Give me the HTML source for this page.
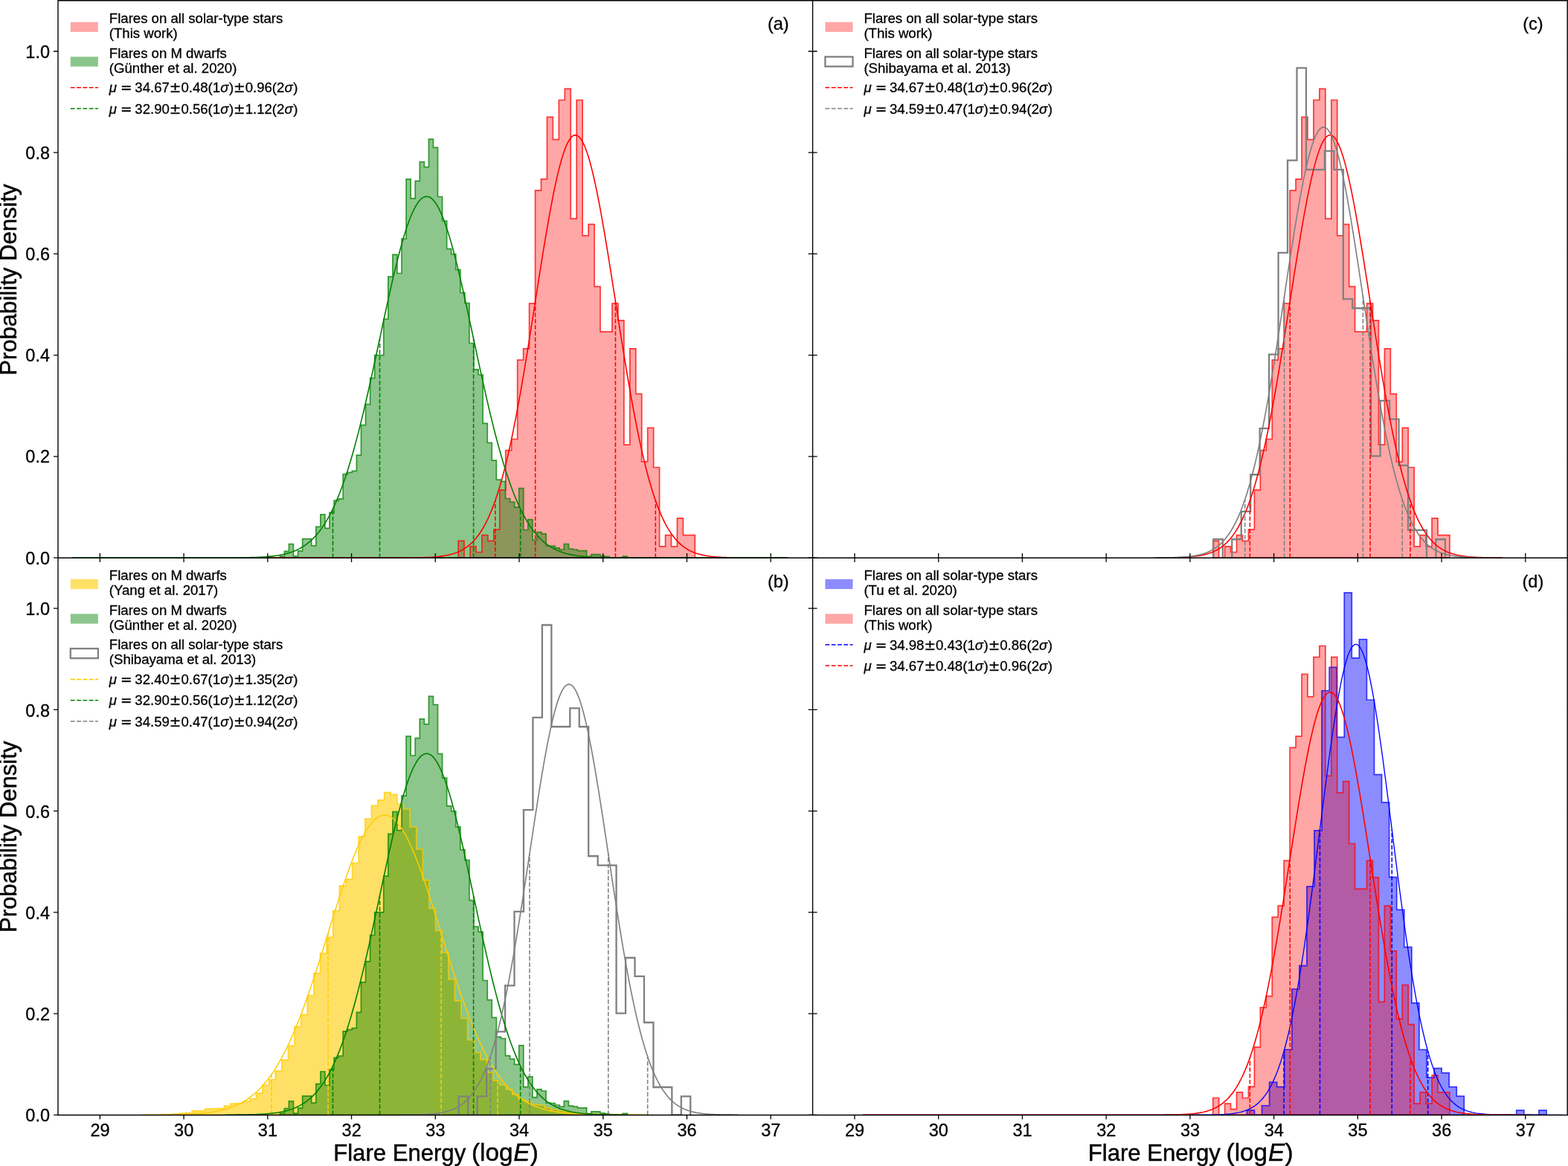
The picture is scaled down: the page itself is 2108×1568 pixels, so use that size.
<!DOCTYPE html>
<html lang="en">
<head>
<meta charset="utf-8">
<title>Flare energy distributions</title>
<style>
html,body{margin:0;padding:0;background:#fff;}
body{width:2108px;height:1568px;overflow:hidden;}
svg{display:block;}
</style>
</head>
<body>
<svg width="2108" height="1568" viewBox="0 0 2108 1568" font-family='"Liberation Sans", sans-serif' fill="#000">
<style>text{stroke:#000;stroke-width:0.3px;paint-order:stroke;}</style>
<rect width="2108" height="1568" fill="#fff"/>
<defs>
<clipPath id="c0"><rect x="78" y="0.9" width="1014.6" height="749.2"/></clipPath>
<clipPath id="c1"><rect x="1092.6" y="0.9" width="1014.6" height="749.2"/></clipPath>
<clipPath id="c2"><rect x="78" y="750.1" width="1014.6" height="749.2"/></clipPath>
<clipPath id="c3"><rect x="1092.6" y="750.1" width="1014.6" height="749.2"/></clipPath>
</defs>
<g clip-path="url(#c0)">
<path d="M616.1 750.1 L616.1 727.3 L624.06 727.3 L624.06 750.1 L632.01 750.1 L632.01 734.9 L639.97 734.9 L639.97 742.5 L647.92 742.5 L647.92 719.7 L655.88 719.7 L655.88 727.3 L663.83 727.3 L663.83 712.1 L671.79 712.1 L671.79 658.9 L679.74 658.9 L679.74 605.7 L687.7 605.7 L687.7 590.5 L695.65 590.5 L695.65 484.1 L703.61 484.1 L703.61 468.9 L711.56 468.9 L711.56 408.1 L719.52 408.1 L719.51 256.1 L727.47 256.1 L727.47 240.9 L735.43 240.9 L735.43 157.3 L743.38 157.3 L743.38 187.7 L751.34 187.7 L751.34 134.5 L759.29 134.5 L759.29 119.3 L767.25 119.3 L767.25 294.1 L775.2 294.1 L775.2 134.5 L783.16 134.5 L783.15 316.9 L791.11 316.9 L791.11 301.7 L799.07 301.7 L799.07 385.3 L807.02 385.3 L807.02 446.1 L814.98 446.1 L822.93 446.1 L822.93 408.1 L830.89 408.1 L830.88 430.9 L838.84 430.9 L838.84 598.1 L846.8 598.1 L846.8 468.9 L854.75 468.9 L854.75 529.7 L862.71 529.7 L862.71 620.9 L870.66 620.9 L870.66 575.3 L878.62 575.3 L878.62 628.5 L886.57 628.5 L886.57 734.9 L894.53 734.9 L894.53 719.7 L902.48 719.7 L902.48 734.9 L910.44 734.9 L910.43 696.9 L918.39 696.9 L918.39 719.7 L926.35 719.7 L934.3 719.7 L934.3 750.1Z" fill="#ff0000" fill-opacity="0.35"/>
<path d="M376.3 750.1 L376.3 747.9 L382.36 747.9 L382.36 741.3 L388.43 741.3 L388.43 731.7 L394.49 731.7 L394.49 747.9 L400.56 747.9 L400.56 740.9 L406.62 740.9 L406.62 724.7 L412.68 724.7 L418.75 724.7 L418.75 733.9 L424.81 733.9 L424.81 708.4 L430.88 708.4 L430.88 691.8 L436.94 691.8 L436.94 710.3 L443 710.3 L443 689.3 L449.07 689.3 L449.07 673.1 L455.13 673.1 L455.13 670.8 L461.2 670.8 L461.2 637.6 L467.26 637.6 L467.26 635.4 L473.32 635.4 L473.32 633.4 L479.39 633.4 L479.39 612.1 L485.45 612.1 L485.45 571.7 L491.52 571.7 L491.52 543.7 L497.58 543.7 L497.58 508.3 L503.64 508.3 L503.64 477.6 L509.71 477.6 L515.77 477.6 L515.77 429 L521.84 429 L521.84 372.2 L527.9 372.2 L527.9 342.3 L533.96 342.3 L533.96 367.5 L540.03 367.5 L540.03 321 L546.09 321 L546.09 240.9 L552.16 240.9 L552.16 266.8 L558.22 266.8 L558.22 243.4 L564.28 243.4 L564.28 217.7 L570.35 217.7 L570.35 224.7 L576.41 224.7 L576.41 187.1 L582.48 187.1 L582.48 198.4 L588.54 198.4 L588.54 264.5 L594.6 264.5 L594.6 297 L600.67 297 L600.67 334.6 L606.73 334.6 L606.73 341.7 L612.8 341.7 L612.8 362.7 L618.86 362.7 L618.86 393.5 L624.92 393.5 L624.92 407.5 L630.99 407.5 L630.99 461.5 L637.05 461.5 L637.05 496.8 L643.12 496.8 L643.12 504 L649.18 504 L649.18 569.3 L655.24 569.3 L655.24 595.4 L661.31 595.4 L661.31 619.1 L667.37 619.1 L667.37 645.1 L673.44 645.1 L673.44 647.3 L679.5 647.3 L679.5 670.5 L685.56 670.5 L685.56 675 L691.63 675 L691.63 682.1 L697.69 682.1 L697.69 656.7 L703.76 656.7 L703.76 712.5 L709.82 712.5 L709.82 698.7 L715.88 698.7 L715.88 726.4 L721.95 726.4 L721.95 715.6 L728.01 715.6 L728.01 717.8 L734.08 717.8 L734.08 734 L740.14 734 L740.14 734.3 L746.2 734.3 L746.2 736.8 L752.27 736.8 L752.27 739 L758.33 739 L758.33 731.5 L764.4 731.5 L764.4 738 L770.46 738 L770.46 739 L776.52 739 L776.52 740.6 L782.59 740.6 L788.65 740.6 L788.65 748.4 L794.72 748.4 L794.72 745.6 L800.78 745.6 L806.84 745.6 L806.84 747.6 L812.91 747.6 L812.91 748.4 L818.97 748.4 L818.97 750.1 L825.04 750.1 L831.1 750.1 L837.16 750.1 L837.16 748.1 L843.23 748.1 L843.23 750.1Z" fill="#008000" fill-opacity="0.45"/>
<path d="M616.1 750.1 L616.1 727.3 L624.06 727.3 L624.06 750.1 L632.01 750.1 L632.01 734.9 L639.97 734.9 L639.97 742.5 L647.92 742.5 L647.92 719.7 L655.88 719.7 L655.88 727.3 L663.83 727.3 L663.83 712.1 L671.79 712.1 L671.79 658.9 L679.74 658.9 L679.74 605.7 L687.7 605.7 L687.7 590.5 L695.65 590.5 L695.65 484.1 L703.61 484.1 L703.61 468.9 L711.56 468.9 L711.56 408.1 L719.52 408.1 L719.51 256.1 L727.47 256.1 L727.47 240.9 L735.43 240.9 L735.43 157.3 L743.38 157.3 L743.38 187.7 L751.34 187.7 L751.34 134.5 L759.29 134.5 L759.29 119.3 L767.25 119.3 L767.25 294.1 L775.2 294.1 L775.2 134.5 L783.16 134.5 L783.15 316.9 L791.11 316.9 L791.11 301.7 L799.07 301.7 L799.07 385.3 L807.02 385.3 L807.02 446.1 L814.98 446.1 L822.93 446.1 L822.93 408.1 L830.89 408.1 L830.88 430.9 L838.84 430.9 L838.84 598.1 L846.8 598.1 L846.8 468.9 L854.75 468.9 L854.75 529.7 L862.71 529.7 L862.71 620.9 L870.66 620.9 L870.66 575.3 L878.62 575.3 L878.62 628.5 L886.57 628.5 L886.57 734.9 L894.53 734.9 L894.53 719.7 L902.48 719.7 L902.48 734.9 L910.44 734.9 L910.43 696.9 L918.39 696.9 L918.39 719.7 L926.35 719.7 L934.3 719.7 L934.3 750.1Z" fill="none" stroke="#ff0000" stroke-opacity="0.75" stroke-width="1.7" stroke-linejoin="miter"/>
<path d="M376.3 750.1 L376.3 747.9 L382.36 747.9 L382.36 741.3 L388.43 741.3 L388.43 731.7 L394.49 731.7 L394.49 747.9 L400.56 747.9 L400.56 740.9 L406.62 740.9 L406.62 724.7 L412.68 724.7 L418.75 724.7 L418.75 733.9 L424.81 733.9 L424.81 708.4 L430.88 708.4 L430.88 691.8 L436.94 691.8 L436.94 710.3 L443 710.3 L443 689.3 L449.07 689.3 L449.07 673.1 L455.13 673.1 L455.13 670.8 L461.2 670.8 L461.2 637.6 L467.26 637.6 L467.26 635.4 L473.32 635.4 L473.32 633.4 L479.39 633.4 L479.39 612.1 L485.45 612.1 L485.45 571.7 L491.52 571.7 L491.52 543.7 L497.58 543.7 L497.58 508.3 L503.64 508.3 L503.64 477.6 L509.71 477.6 L515.77 477.6 L515.77 429 L521.84 429 L521.84 372.2 L527.9 372.2 L527.9 342.3 L533.96 342.3 L533.96 367.5 L540.03 367.5 L540.03 321 L546.09 321 L546.09 240.9 L552.16 240.9 L552.16 266.8 L558.22 266.8 L558.22 243.4 L564.28 243.4 L564.28 217.7 L570.35 217.7 L570.35 224.7 L576.41 224.7 L576.41 187.1 L582.48 187.1 L582.48 198.4 L588.54 198.4 L588.54 264.5 L594.6 264.5 L594.6 297 L600.67 297 L600.67 334.6 L606.73 334.6 L606.73 341.7 L612.8 341.7 L612.8 362.7 L618.86 362.7 L618.86 393.5 L624.92 393.5 L624.92 407.5 L630.99 407.5 L630.99 461.5 L637.05 461.5 L637.05 496.8 L643.12 496.8 L643.12 504 L649.18 504 L649.18 569.3 L655.24 569.3 L655.24 595.4 L661.31 595.4 L661.31 619.1 L667.37 619.1 L667.37 645.1 L673.44 645.1 L673.44 647.3 L679.5 647.3 L679.5 670.5 L685.56 670.5 L685.56 675 L691.63 675 L691.63 682.1 L697.69 682.1 L697.69 656.7 L703.76 656.7 L703.76 712.5 L709.82 712.5 L709.82 698.7 L715.88 698.7 L715.88 726.4 L721.95 726.4 L721.95 715.6 L728.01 715.6 L728.01 717.8 L734.08 717.8 L734.08 734 L740.14 734 L740.14 734.3 L746.2 734.3 L746.2 736.8 L752.27 736.8 L752.27 739 L758.33 739 L758.33 731.5 L764.4 731.5 L764.4 738 L770.46 738 L770.46 739 L776.52 739 L776.52 740.6 L782.59 740.6 L788.65 740.6 L788.65 748.4 L794.72 748.4 L794.72 745.6 L800.78 745.6 L806.84 745.6 L806.84 747.6 L812.91 747.6 L812.91 748.4 L818.97 748.4 L818.97 750.1 L825.04 750.1 L831.1 750.1 L837.16 750.1 L837.16 748.1 L843.23 748.1 L843.23 750.1Z" fill="none" stroke="#008000" stroke-opacity="0.75" stroke-width="1.7" stroke-linejoin="miter"/>
</g>
<g clip-path="url(#c1)">
<path d="M1630.7 750.1 L1630.7 727.3 L1638.65 727.3 L1638.65 750.1 L1646.61 750.1 L1646.61 734.9 L1654.56 734.9 L1654.56 742.5 L1662.52 742.5 L1662.52 719.7 L1670.47 719.7 L1670.47 727.3 L1678.43 727.3 L1678.43 712.1 L1686.38 712.1 L1686.38 658.9 L1694.34 658.9 L1694.34 605.7 L1702.29 605.7 L1702.29 590.5 L1710.25 590.5 L1710.25 484.1 L1718.2 484.1 L1718.2 468.9 L1726.16 468.9 L1726.16 408.1 L1734.11 408.1 L1734.11 256.1 L1742.07 256.1 L1742.07 240.9 L1750.02 240.9 L1750.02 157.3 L1757.98 157.3 L1757.98 187.7 L1765.93 187.7 L1765.93 134.5 L1773.89 134.5 L1773.89 119.3 L1781.84 119.3 L1781.84 294.1 L1789.8 294.1 L1789.8 134.5 L1797.75 134.5 L1797.75 316.9 L1805.71 316.9 L1805.71 301.7 L1813.66 301.7 L1813.66 385.3 L1821.62 385.3 L1821.62 446.1 L1829.57 446.1 L1837.53 446.1 L1837.53 408.1 L1845.48 408.1 L1845.48 430.9 L1853.44 430.9 L1853.44 598.1 L1861.39 598.1 L1861.39 468.9 L1869.35 468.9 L1869.35 529.7 L1877.3 529.7 L1877.3 620.9 L1885.26 620.9 L1885.26 575.3 L1893.21 575.3 L1893.21 628.5 L1901.17 628.5 L1901.17 734.9 L1909.12 734.9 L1909.12 719.7 L1917.08 719.7 L1917.08 734.9 L1925.03 734.9 L1925.03 696.9 L1932.99 696.9 L1932.99 719.7 L1940.94 719.7 L1948.9 719.7 L1948.9 750.1Z" fill="#ff0000" fill-opacity="0.35"/>

<path d="M1630.7 750.1 L1630.7 727.3 L1638.65 727.3 L1638.65 750.1 L1646.61 750.1 L1646.61 734.9 L1654.56 734.9 L1654.56 742.5 L1662.52 742.5 L1662.52 719.7 L1670.47 719.7 L1670.47 727.3 L1678.43 727.3 L1678.43 712.1 L1686.38 712.1 L1686.38 658.9 L1694.34 658.9 L1694.34 605.7 L1702.29 605.7 L1702.29 590.5 L1710.25 590.5 L1710.25 484.1 L1718.2 484.1 L1718.2 468.9 L1726.16 468.9 L1726.16 408.1 L1734.11 408.1 L1734.11 256.1 L1742.07 256.1 L1742.07 240.9 L1750.02 240.9 L1750.02 157.3 L1757.98 157.3 L1757.98 187.7 L1765.93 187.7 L1765.93 134.5 L1773.89 134.5 L1773.89 119.3 L1781.84 119.3 L1781.84 294.1 L1789.8 294.1 L1789.8 134.5 L1797.75 134.5 L1797.75 316.9 L1805.71 316.9 L1805.71 301.7 L1813.66 301.7 L1813.66 385.3 L1821.62 385.3 L1821.62 446.1 L1829.57 446.1 L1837.53 446.1 L1837.53 408.1 L1845.48 408.1 L1845.48 430.9 L1853.44 430.9 L1853.44 598.1 L1861.39 598.1 L1861.39 468.9 L1869.35 468.9 L1869.35 529.7 L1877.3 529.7 L1877.3 620.9 L1885.26 620.9 L1885.26 575.3 L1893.21 575.3 L1893.21 628.5 L1901.17 628.5 L1901.17 734.9 L1909.12 734.9 L1909.12 719.7 L1917.08 719.7 L1917.08 734.9 L1925.03 734.9 L1925.03 696.9 L1932.99 696.9 L1932.99 719.7 L1940.94 719.7 L1948.9 719.7 L1948.9 750.1Z" fill="none" stroke="#ff0000" stroke-opacity="0.75" stroke-width="1.7" stroke-linejoin="miter"/>
<path d="M1631.35 750.1 L1631.35 725.24 L1643.81 725.24 L1643.81 750.1 L1656.27 750.1 L1656.27 725.24 L1668.73 725.24 L1668.73 687.95 L1681.19 687.95 L1681.19 638.23 L1693.65 638.23 L1693.65 576.08 L1706.11 576.08 L1706.11 476.64 L1718.57 476.64 L1718.57 339.91 L1731.03 339.91 L1731.03 215.61 L1743.49 215.61 L1743.49 91.31 L1755.95 91.31 L1755.95 228.04 L1768.41 228.04 L1780.87 228.04 L1780.87 203.18 L1793.33 203.18 L1793.33 228.04 L1805.79 228.04 L1805.79 402.06 L1818.25 402.06 L1818.25 414.49 L1830.71 414.49 L1843.17 414.49 L1843.17 613.37 L1855.63 613.37 L1855.63 538.79 L1868.09 538.79 L1868.09 563.65 L1880.55 563.65 L1880.55 625.8 L1893.01 625.8 L1893.01 712.81 L1905.47 712.81 L1917.93 712.81 L1917.93 750.1 L1930.39 750.1 L1930.39 725.24 L1942.85 725.24 L1942.85 750.1" fill="none" stroke="#808080" stroke-width="2.3" stroke-linejoin="miter"/>
</g>
<g clip-path="url(#c2)">
<path d="M215.18 1499.3 L215.18 1498.8 L223.79 1498.8 L223.79 1498.5 L232.41 1498.5 L232.41 1497.9 L241.02 1497.9 L241.02 1497.1 L249.64 1497.1 L249.64 1496.5 L258.25 1496.5 L258.25 1493.9 L266.86 1493.9 L275.48 1493.9 L275.48 1491.2 L284.09 1491.2 L284.09 1490.9 L292.71 1490.9 L292.71 1490.6 L301.32 1490.6 L301.32 1487 L309.93 1487 L309.93 1484.1 L318.55 1484.1 L318.55 1483.9 L327.16 1483.9 L327.16 1481.1 L335.78 1481.1 L335.78 1477.5 L344.39 1477.5 L344.39 1470.2 L353 1470.2 L353 1459 L361.62 1459 L361.62 1451.9 L370.23 1451.9 L370.23 1440.2 L378.85 1440.2 L378.85 1425.3 L387.46 1425.3 L387.46 1406.3 L396.07 1406.3 L396.07 1380.7 L404.69 1380.7 L404.69 1364.3 L413.3 1364.3 L413.3 1338.5 L421.92 1338.5 L421.92 1308.8 L430.53 1308.8 L430.53 1282 L439.14 1282 L439.14 1260.3 L447.76 1260.3 L447.76 1224.5 L456.37 1224.5 L456.37 1191.1 L464.99 1191.1 L464.99 1182.3 L473.6 1182.3 L473.6 1160.5 L482.21 1160.5 L482.21 1124.8 L490.83 1124.8 L490.83 1101.2 L499.44 1101.2 L499.44 1083.3 L508.06 1083.3 L508.06 1075.9 L516.67 1075.9 L516.67 1065.5 L525.28 1065.5 L525.28 1068.4 L533.9 1068.4 L533.9 1081.4 L542.51 1081.4 L542.51 1088 L551.13 1088 L551.13 1112 L559.74 1112 L559.74 1142 L568.35 1142 L568.35 1183.7 L576.97 1183.7 L576.97 1221.4 L585.58 1221.4 L585.58 1251.4 L594.2 1251.4 L594.2 1281 L602.81 1281 L602.81 1316.9 L611.42 1316.9 L611.42 1345.9 L620.04 1345.9 L620.04 1369.3 L628.65 1369.3 L628.65 1398.5 L637.27 1398.5 L637.27 1415.5 L645.88 1415.5 L645.88 1424.8 L654.49 1424.8 L654.49 1441.9 L663.11 1441.9 L663.11 1452.8 L671.72 1452.8 L671.72 1459.2 L680.34 1459.2 L680.34 1465 L688.95 1465 L688.95 1471.8 L697.56 1471.8 L697.56 1478.6 L706.18 1478.6 L706.18 1481.2 L714.79 1481.2 L714.79 1485.4 L723.41 1485.4 L723.41 1486.1 L732.02 1486.1 L732.02 1489.6 L740.63 1489.6 L740.63 1492.2 L749.25 1492.2 L749.25 1493.6 L757.86 1493.6 L757.86 1494.8 L766.48 1494.8 L766.48 1495.9 L775.09 1495.9 L775.09 1496.9 L783.7 1496.9 L783.7 1497.5 L792.32 1497.5 L792.32 1497.9 L800.93 1497.9 L800.93 1498.2 L809.55 1498.2 L809.55 1498.4 L818.16 1498.4 L818.16 1498.6 L826.77 1498.6 L826.77 1498.7 L835.39 1498.7 L835.39 1498.8 L844 1498.8 L844 1498.9 L852.62 1498.9 L861.23 1498.9 L861.23 1499 L869.84 1499 L869.84 1499.3Z" fill="#ffcc00" fill-opacity="0.6"/>
<path d="M376.3 1499.3 L376.3 1497.1 L382.36 1497.1 L382.36 1490.5 L388.43 1490.5 L388.43 1480.9 L394.49 1480.9 L394.49 1497.1 L400.56 1497.1 L400.56 1490.1 L406.62 1490.1 L406.62 1473.9 L412.68 1473.9 L418.75 1473.9 L418.75 1483.1 L424.81 1483.1 L424.81 1457.6 L430.88 1457.6 L430.88 1441 L436.94 1441 L436.94 1459.5 L443 1459.5 L443 1438.5 L449.07 1438.5 L449.07 1422.3 L455.13 1422.3 L455.13 1420 L461.2 1420 L461.2 1386.8 L467.26 1386.8 L467.26 1384.6 L473.32 1384.6 L473.32 1382.6 L479.39 1382.6 L479.39 1361.3 L485.45 1361.3 L485.45 1320.9 L491.52 1320.9 L491.52 1292.9 L497.58 1292.9 L497.58 1257.5 L503.64 1257.5 L503.64 1226.8 L509.71 1226.8 L515.77 1226.8 L515.77 1178.2 L521.84 1178.2 L521.84 1121.4 L527.9 1121.4 L527.9 1091.5 L533.96 1091.5 L533.96 1116.7 L540.03 1116.7 L540.03 1070.2 L546.09 1070.2 L546.09 990.1 L552.16 990.1 L552.16 1016 L558.22 1016 L558.22 992.6 L564.28 992.6 L564.28 966.9 L570.35 966.9 L570.35 973.9 L576.41 973.9 L576.41 936.3 L582.48 936.3 L582.48 947.6 L588.54 947.6 L588.54 1013.7 L594.6 1013.7 L594.6 1046.2 L600.67 1046.2 L600.67 1083.8 L606.73 1083.8 L606.73 1090.9 L612.8 1090.9 L612.8 1111.9 L618.86 1111.9 L618.86 1142.7 L624.92 1142.7 L624.92 1156.7 L630.99 1156.7 L630.99 1210.7 L637.05 1210.7 L637.05 1246 L643.12 1246 L643.12 1253.2 L649.18 1253.2 L649.18 1318.5 L655.24 1318.5 L655.24 1344.6 L661.31 1344.6 L661.31 1368.3 L667.37 1368.3 L667.37 1394.3 L673.44 1394.3 L673.44 1396.5 L679.5 1396.5 L679.5 1419.7 L685.56 1419.7 L685.56 1424.2 L691.63 1424.2 L691.63 1431.3 L697.69 1431.3 L697.69 1405.9 L703.76 1405.9 L703.76 1461.7 L709.82 1461.7 L709.82 1447.9 L715.88 1447.9 L715.88 1475.6 L721.95 1475.6 L721.95 1464.8 L728.01 1464.8 L728.01 1467 L734.08 1467 L734.08 1483.2 L740.14 1483.2 L740.14 1483.5 L746.2 1483.5 L746.2 1486 L752.27 1486 L752.27 1488.2 L758.33 1488.2 L758.33 1480.7 L764.4 1480.7 L764.4 1487.2 L770.46 1487.2 L770.46 1488.2 L776.52 1488.2 L776.52 1489.8 L782.59 1489.8 L788.65 1489.8 L788.65 1497.6 L794.72 1497.6 L794.72 1494.8 L800.78 1494.8 L806.84 1494.8 L806.84 1496.8 L812.91 1496.8 L812.91 1497.6 L818.97 1497.6 L818.97 1499.3 L825.04 1499.3 L831.1 1499.3 L837.16 1499.3 L837.16 1497.3 L843.23 1497.3 L843.23 1499.3Z" fill="#008000" fill-opacity="0.45"/>

<path d="M215.18 1499.3 L215.18 1498.8 L223.79 1498.8 L223.79 1498.5 L232.41 1498.5 L232.41 1497.9 L241.02 1497.9 L241.02 1497.1 L249.64 1497.1 L249.64 1496.5 L258.25 1496.5 L258.25 1493.9 L266.86 1493.9 L275.48 1493.9 L275.48 1491.2 L284.09 1491.2 L284.09 1490.9 L292.71 1490.9 L292.71 1490.6 L301.32 1490.6 L301.32 1487 L309.93 1487 L309.93 1484.1 L318.55 1484.1 L318.55 1483.9 L327.16 1483.9 L327.16 1481.1 L335.78 1481.1 L335.78 1477.5 L344.39 1477.5 L344.39 1470.2 L353 1470.2 L353 1459 L361.62 1459 L361.62 1451.9 L370.23 1451.9 L370.23 1440.2 L378.85 1440.2 L378.85 1425.3 L387.46 1425.3 L387.46 1406.3 L396.07 1406.3 L396.07 1380.7 L404.69 1380.7 L404.69 1364.3 L413.3 1364.3 L413.3 1338.5 L421.92 1338.5 L421.92 1308.8 L430.53 1308.8 L430.53 1282 L439.14 1282 L439.14 1260.3 L447.76 1260.3 L447.76 1224.5 L456.37 1224.5 L456.37 1191.1 L464.99 1191.1 L464.99 1182.3 L473.6 1182.3 L473.6 1160.5 L482.21 1160.5 L482.21 1124.8 L490.83 1124.8 L490.83 1101.2 L499.44 1101.2 L499.44 1083.3 L508.06 1083.3 L508.06 1075.9 L516.67 1075.9 L516.67 1065.5 L525.28 1065.5 L525.28 1068.4 L533.9 1068.4 L533.9 1081.4 L542.51 1081.4 L542.51 1088 L551.13 1088 L551.13 1112 L559.74 1112 L559.74 1142 L568.35 1142 L568.35 1183.7 L576.97 1183.7 L576.97 1221.4 L585.58 1221.4 L585.58 1251.4 L594.2 1251.4 L594.2 1281 L602.81 1281 L602.81 1316.9 L611.42 1316.9 L611.42 1345.9 L620.04 1345.9 L620.04 1369.3 L628.65 1369.3 L628.65 1398.5 L637.27 1398.5 L637.27 1415.5 L645.88 1415.5 L645.88 1424.8 L654.49 1424.8 L654.49 1441.9 L663.11 1441.9 L663.11 1452.8 L671.72 1452.8 L671.72 1459.2 L680.34 1459.2 L680.34 1465 L688.95 1465 L688.95 1471.8 L697.56 1471.8 L697.56 1478.6 L706.18 1478.6 L706.18 1481.2 L714.79 1481.2 L714.79 1485.4 L723.41 1485.4 L723.41 1486.1 L732.02 1486.1 L732.02 1489.6 L740.63 1489.6 L740.63 1492.2 L749.25 1492.2 L749.25 1493.6 L757.86 1493.6 L757.86 1494.8 L766.48 1494.8 L766.48 1495.9 L775.09 1495.9 L775.09 1496.9 L783.7 1496.9 L783.7 1497.5 L792.32 1497.5 L792.32 1497.9 L800.93 1497.9 L800.93 1498.2 L809.55 1498.2 L809.55 1498.4 L818.16 1498.4 L818.16 1498.6 L826.77 1498.6 L826.77 1498.7 L835.39 1498.7 L835.39 1498.8 L844 1498.8 L844 1498.9 L852.62 1498.9 L861.23 1498.9 L861.23 1499 L869.84 1499 L869.84 1499.3Z" fill="none" stroke="#ffcc00" stroke-opacity="0.75" stroke-width="1.7" stroke-linejoin="miter"/>
<path d="M376.3 1499.3 L376.3 1497.1 L382.36 1497.1 L382.36 1490.5 L388.43 1490.5 L388.43 1480.9 L394.49 1480.9 L394.49 1497.1 L400.56 1497.1 L400.56 1490.1 L406.62 1490.1 L406.62 1473.9 L412.68 1473.9 L418.75 1473.9 L418.75 1483.1 L424.81 1483.1 L424.81 1457.6 L430.88 1457.6 L430.88 1441 L436.94 1441 L436.94 1459.5 L443 1459.5 L443 1438.5 L449.07 1438.5 L449.07 1422.3 L455.13 1422.3 L455.13 1420 L461.2 1420 L461.2 1386.8 L467.26 1386.8 L467.26 1384.6 L473.32 1384.6 L473.32 1382.6 L479.39 1382.6 L479.39 1361.3 L485.45 1361.3 L485.45 1320.9 L491.52 1320.9 L491.52 1292.9 L497.58 1292.9 L497.58 1257.5 L503.64 1257.5 L503.64 1226.8 L509.71 1226.8 L515.77 1226.8 L515.77 1178.2 L521.84 1178.2 L521.84 1121.4 L527.9 1121.4 L527.9 1091.5 L533.96 1091.5 L533.96 1116.7 L540.03 1116.7 L540.03 1070.2 L546.09 1070.2 L546.09 990.1 L552.16 990.1 L552.16 1016 L558.22 1016 L558.22 992.6 L564.28 992.6 L564.28 966.9 L570.35 966.9 L570.35 973.9 L576.41 973.9 L576.41 936.3 L582.48 936.3 L582.48 947.6 L588.54 947.6 L588.54 1013.7 L594.6 1013.7 L594.6 1046.2 L600.67 1046.2 L600.67 1083.8 L606.73 1083.8 L606.73 1090.9 L612.8 1090.9 L612.8 1111.9 L618.86 1111.9 L618.86 1142.7 L624.92 1142.7 L624.92 1156.7 L630.99 1156.7 L630.99 1210.7 L637.05 1210.7 L637.05 1246 L643.12 1246 L643.12 1253.2 L649.18 1253.2 L649.18 1318.5 L655.24 1318.5 L655.24 1344.6 L661.31 1344.6 L661.31 1368.3 L667.37 1368.3 L667.37 1394.3 L673.44 1394.3 L673.44 1396.5 L679.5 1396.5 L679.5 1419.7 L685.56 1419.7 L685.56 1424.2 L691.63 1424.2 L691.63 1431.3 L697.69 1431.3 L697.69 1405.9 L703.76 1405.9 L703.76 1461.7 L709.82 1461.7 L709.82 1447.9 L715.88 1447.9 L715.88 1475.6 L721.95 1475.6 L721.95 1464.8 L728.01 1464.8 L728.01 1467 L734.08 1467 L734.08 1483.2 L740.14 1483.2 L740.14 1483.5 L746.2 1483.5 L746.2 1486 L752.27 1486 L752.27 1488.2 L758.33 1488.2 L758.33 1480.7 L764.4 1480.7 L764.4 1487.2 L770.46 1487.2 L770.46 1488.2 L776.52 1488.2 L776.52 1489.8 L782.59 1489.8 L788.65 1489.8 L788.65 1497.6 L794.72 1497.6 L794.72 1494.8 L800.78 1494.8 L806.84 1494.8 L806.84 1496.8 L812.91 1496.8 L812.91 1497.6 L818.97 1497.6 L818.97 1499.3 L825.04 1499.3 L831.1 1499.3 L837.16 1499.3 L837.16 1497.3 L843.23 1497.3 L843.23 1499.3Z" fill="none" stroke="#008000" stroke-opacity="0.75" stroke-width="1.7" stroke-linejoin="miter"/>
<path d="M616.75 1499.3 L616.75 1474.44 L629.21 1474.44 L629.21 1499.3 L641.67 1499.3 L641.67 1474.44 L654.13 1474.44 L654.13 1437.15 L666.59 1437.15 L666.59 1387.43 L679.05 1387.43 L679.05 1325.28 L691.51 1325.28 L691.51 1225.84 L703.97 1225.84 L703.97 1089.11 L716.43 1089.11 L716.43 964.81 L728.89 964.81 L728.89 840.51 L741.35 840.51 L741.35 977.24 L753.81 977.24 L766.27 977.24 L766.27 952.38 L778.73 952.38 L778.73 977.24 L791.19 977.24 L791.19 1151.26 L803.65 1151.26 L803.65 1163.69 L816.11 1163.69 L828.57 1163.69 L828.57 1362.57 L841.03 1362.57 L841.03 1287.99 L853.49 1287.99 L853.49 1312.85 L865.95 1312.85 L865.95 1375 L878.41 1375 L878.41 1462.01 L890.87 1462.01 L903.33 1462.01 L903.33 1499.3 L915.79 1499.3 L915.79 1474.44 L928.25 1474.44 L928.25 1499.3" fill="none" stroke="#808080" stroke-width="2.3" stroke-linejoin="miter"/>
</g>
<g clip-path="url(#c3)">
<path d="M1676.4 1499.3 L1676.4 1493.03 L1686.47 1493.03 L1686.47 1499.3 L1696.53 1499.3 L1696.53 1486.76 L1706.6 1486.76 L1706.6 1455.41 L1716.66 1455.41 L1716.66 1461.68 L1726.73 1461.68 L1726.73 1411.52 L1736.79 1411.52 L1736.79 1330.01 L1746.86 1330.01 L1746.86 1298.66 L1756.92 1298.66 L1756.92 1192.07 L1766.99 1192.07 L1766.99 1116.83 L1777.05 1116.83 L1777.05 928.73 L1787.12 928.73 L1787.12 897.38 L1797.18 897.38 L1797.18 991.43 L1807.25 991.43 L1807.25 797.06 L1817.31 797.06 L1817.31 884.84 L1827.38 884.84 L1827.38 859.76 L1837.44 859.76 L1837.44 941.27 L1847.51 941.27 L1847.51 1041.59 L1857.57 1041.59 L1857.57 1079.21 L1867.64 1079.21 L1867.63 1179.53 L1877.7 1179.53 L1877.7 1223.42 L1887.77 1223.42 L1887.77 1273.58 L1897.83 1273.58 L1897.83 1348.82 L1907.9 1348.82 L1907.89 1411.52 L1917.96 1411.52 L1917.96 1449.14 L1928.03 1449.14 L1928.03 1436.6 L1938.09 1436.6 L1938.09 1442.87 L1948.16 1442.87 L1948.16 1461.68 L1958.22 1461.68 L1958.22 1474.22 L1968.29 1474.22 L1968.29 1499.3 L1978.35 1499.3 L1988.42 1499.3 L1988.41 1499.3 L1998.48 1499.3 L2008.55 1499.3 L2018.61 1499.3 L2028.68 1499.3 L2038.74 1499.3 L2038.74 1493.03 L2048.8 1493.03 L2048.81 1499.3 L2058.87 1499.3 L2068.93 1499.3 L2068.93 1493.03 L2079 1493.03 L2079 1499.3Z" fill="#0000ff" fill-opacity="0.45"/>
<path d="M1630.7 1499.3 L1630.7 1476.5 L1638.65 1476.5 L1638.65 1499.3 L1646.61 1499.3 L1646.61 1484.1 L1654.56 1484.1 L1654.56 1491.7 L1662.52 1491.7 L1662.52 1468.9 L1670.47 1468.9 L1670.47 1476.5 L1678.43 1476.5 L1678.43 1461.3 L1686.38 1461.3 L1686.38 1408.1 L1694.34 1408.1 L1694.34 1354.9 L1702.29 1354.9 L1702.29 1339.7 L1710.25 1339.7 L1710.25 1233.3 L1718.2 1233.3 L1718.2 1218.1 L1726.16 1218.1 L1726.16 1157.3 L1734.11 1157.3 L1734.11 1005.3 L1742.07 1005.3 L1742.07 990.1 L1750.02 990.1 L1750.02 906.5 L1757.98 906.5 L1757.98 936.9 L1765.93 936.9 L1765.93 883.7 L1773.89 883.7 L1773.89 868.5 L1781.84 868.5 L1781.84 1043.3 L1789.8 1043.3 L1789.8 883.7 L1797.75 883.7 L1797.75 1066.1 L1805.71 1066.1 L1805.71 1050.9 L1813.66 1050.9 L1813.66 1134.5 L1821.62 1134.5 L1821.62 1195.3 L1829.57 1195.3 L1837.53 1195.3 L1837.53 1157.3 L1845.48 1157.3 L1845.48 1180.1 L1853.44 1180.1 L1853.44 1347.3 L1861.39 1347.3 L1861.39 1218.1 L1869.35 1218.1 L1869.35 1278.9 L1877.3 1278.9 L1877.3 1370.1 L1885.26 1370.1 L1885.26 1324.5 L1893.21 1324.5 L1893.21 1377.7 L1901.17 1377.7 L1901.17 1484.1 L1909.12 1484.1 L1909.12 1468.9 L1917.08 1468.9 L1917.08 1484.1 L1925.03 1484.1 L1925.03 1446.1 L1932.99 1446.1 L1932.99 1468.9 L1940.94 1468.9 L1948.9 1468.9 L1948.9 1499.3Z" fill="#ff0000" fill-opacity="0.35"/>
<path d="M1676.4 1499.3 L1676.4 1493.03 L1686.47 1493.03 L1686.47 1499.3 L1696.53 1499.3 L1696.53 1486.76 L1706.6 1486.76 L1706.6 1455.41 L1716.66 1455.41 L1716.66 1461.68 L1726.73 1461.68 L1726.73 1411.52 L1736.79 1411.52 L1736.79 1330.01 L1746.86 1330.01 L1746.86 1298.66 L1756.92 1298.66 L1756.92 1192.07 L1766.99 1192.07 L1766.99 1116.83 L1777.05 1116.83 L1777.05 928.73 L1787.12 928.73 L1787.12 897.38 L1797.18 897.38 L1797.18 991.43 L1807.25 991.43 L1807.25 797.06 L1817.31 797.06 L1817.31 884.84 L1827.38 884.84 L1827.38 859.76 L1837.44 859.76 L1837.44 941.27 L1847.51 941.27 L1847.51 1041.59 L1857.57 1041.59 L1857.57 1079.21 L1867.64 1079.21 L1867.63 1179.53 L1877.7 1179.53 L1877.7 1223.42 L1887.77 1223.42 L1887.77 1273.58 L1897.83 1273.58 L1897.83 1348.82 L1907.9 1348.82 L1907.89 1411.52 L1917.96 1411.52 L1917.96 1449.14 L1928.03 1449.14 L1928.03 1436.6 L1938.09 1436.6 L1938.09 1442.87 L1948.16 1442.87 L1948.16 1461.68 L1958.22 1461.68 L1958.22 1474.22 L1968.29 1474.22 L1968.29 1499.3 L1978.35 1499.3 L1988.42 1499.3 L1988.41 1499.3 L1998.48 1499.3 L2008.55 1499.3 L2018.61 1499.3 L2028.68 1499.3 L2038.74 1499.3 L2038.74 1493.03 L2048.8 1493.03 L2048.81 1499.3 L2058.87 1499.3 L2068.93 1499.3 L2068.93 1493.03 L2079 1493.03 L2079 1499.3Z" fill="none" stroke="#0000ff" stroke-opacity="0.75" stroke-width="1.7" stroke-linejoin="miter"/>
<path d="M1630.7 1499.3 L1630.7 1476.5 L1638.65 1476.5 L1638.65 1499.3 L1646.61 1499.3 L1646.61 1484.1 L1654.56 1484.1 L1654.56 1491.7 L1662.52 1491.7 L1662.52 1468.9 L1670.47 1468.9 L1670.47 1476.5 L1678.43 1476.5 L1678.43 1461.3 L1686.38 1461.3 L1686.38 1408.1 L1694.34 1408.1 L1694.34 1354.9 L1702.29 1354.9 L1702.29 1339.7 L1710.25 1339.7 L1710.25 1233.3 L1718.2 1233.3 L1718.2 1218.1 L1726.16 1218.1 L1726.16 1157.3 L1734.11 1157.3 L1734.11 1005.3 L1742.07 1005.3 L1742.07 990.1 L1750.02 990.1 L1750.02 906.5 L1757.98 906.5 L1757.98 936.9 L1765.93 936.9 L1765.93 883.7 L1773.89 883.7 L1773.89 868.5 L1781.84 868.5 L1781.84 1043.3 L1789.8 1043.3 L1789.8 883.7 L1797.75 883.7 L1797.75 1066.1 L1805.71 1066.1 L1805.71 1050.9 L1813.66 1050.9 L1813.66 1134.5 L1821.62 1134.5 L1821.62 1195.3 L1829.57 1195.3 L1837.53 1195.3 L1837.53 1157.3 L1845.48 1157.3 L1845.48 1180.1 L1853.44 1180.1 L1853.44 1347.3 L1861.39 1347.3 L1861.39 1218.1 L1869.35 1218.1 L1869.35 1278.9 L1877.3 1278.9 L1877.3 1370.1 L1885.26 1370.1 L1885.26 1324.5 L1893.21 1324.5 L1893.21 1377.7 L1901.17 1377.7 L1901.17 1484.1 L1909.12 1484.1 L1909.12 1468.9 L1917.08 1468.9 L1917.08 1484.1 L1925.03 1484.1 L1925.03 1446.1 L1932.99 1446.1 L1932.99 1468.9 L1940.94 1468.9 L1948.9 1468.9 L1948.9 1499.3Z" fill="none" stroke="#ff0000" stroke-opacity="0.75" stroke-width="1.7" stroke-linejoin="miter"/>
</g>
<g clip-path="url(#c0)">
<path d="M359.82 750.1 L511.84 750.1 L513.59 750.09 L525.82 750.09 L527.57 750.08 L531.06 750.08 L532.81 750.07 L534.56 750.07 L536.3 750.06 L538.05 750.06 L539.8 750.05 L541.55 750.05 L543.29 750.04 L545.04 750.03 L546.79 750.02 L548.54 750.01 L550.28 749.99 L552.03 749.98 L553.78 749.96 L555.52 749.94 L557.27 749.92 L559.02 749.89 L560.77 749.87 L562.51 749.83 L564.26 749.8 L566.01 749.76 L567.76 749.71 L569.5 749.66 L571.25 749.61 L573 749.54 L574.74 749.47 L576.49 749.39 L578.24 749.3 L579.99 749.2 L581.73 749.09 L583.48 748.97 L585.23 748.83 L586.98 748.68 L588.72 748.51 L590.47 748.33 L592.22 748.12 L593.97 747.9 L595.71 747.65 L597.46 747.37 L599.21 747.07 L600.95 746.73 L602.7 746.37 L604.45 745.97 L606.2 745.53 L607.94 745.04 L609.69 744.52 L611.44 743.94 L613.19 743.31 L614.93 742.63 L616.68 741.89 L618.43 741.08 L620.17 740.2 L621.92 739.25 L623.67 738.22 L625.42 737.11 L627.16 735.9 L628.91 734.6 L630.66 733.2 L632.41 731.69 L634.15 730.07 L635.9 728.33 L637.65 726.46 L639.4 724.46 L641.14 722.32 L642.89 720.03 L644.64 717.59 L646.38 714.99 L648.13 712.22 L649.88 709.27 L651.63 706.14 L653.37 702.82 L655.12 699.3 L656.87 695.57 L658.62 691.64 L660.36 687.48 L662.11 683.1 L663.86 678.5 L665.61 673.65 L667.35 668.56 L669.1 663.23 L670.85 657.64 L672.59 651.8 L674.34 645.7 L676.09 639.33 L677.84 632.7 L679.58 625.81 L681.33 618.65 L683.08 611.22 L684.83 603.53 L686.57 595.57 L688.32 587.35 L690.07 578.88 L691.81 570.15 L693.56 561.18 L695.31 551.97 L697.06 542.53 L698.8 532.86 L700.55 522.99 L702.3 512.91 L704.05 502.65 L705.79 492.22 L707.54 481.63 L709.29 470.9 L711.04 460.05 L712.78 449.09 L714.53 438.04 L716.28 426.93 L718.02 415.77 L719.77 404.6 L721.52 393.42 L723.27 382.27 L725.01 371.17 L726.76 360.15 L728.51 349.22 L730.26 338.43 L732 327.78 L733.75 317.32 L735.5 307.06 L737.25 297.04 L738.99 287.28 L740.74 277.8 L742.49 268.64 L744.23 259.82 L745.98 251.35 L747.73 243.28 L749.48 235.62 L751.22 228.38 L752.97 221.61 L754.72 215.3 L756.47 209.5 L758.21 204.2 L759.96 199.43 L761.71 195.2 L763.45 191.53 L765.2 188.42 L766.95 185.89 L768.7 183.94 L770.44 182.59 L772.19 181.83 L773.94 181.66 L775.69 182.1 L777.43 183.13 L779.18 184.75 L780.93 186.96 L782.68 189.75 L784.42 193.12 L786.17 197.04 L787.92 201.52 L789.66 206.53 L791.41 212.06 L793.16 218.09 L794.91 224.61 L796.65 231.59 L798.4 239.02 L800.15 246.88 L801.9 255.13 L803.64 263.76 L805.39 272.74 L807.14 282.05 L808.88 291.65 L810.63 301.54 L812.38 311.67 L814.13 322.02 L815.87 332.57 L817.62 343.28 L819.37 354.14 L821.12 365.11 L822.86 376.18 L824.61 387.3 L826.36 398.47 L828.11 409.64 L829.85 420.81 L831.6 431.95 L833.35 443.04 L835.09 454.05 L836.84 464.96 L838.59 475.76 L840.34 486.43 L842.08 496.95 L843.83 507.31 L845.58 517.49 L847.33 527.47 L849.07 537.25 L850.82 546.82 L852.57 556.16 L854.32 565.26 L856.06 574.12 L857.81 582.74 L859.56 591.1 L861.3 599.2 L863.05 607.03 L864.8 614.61 L866.55 621.91 L868.29 628.96 L870.04 635.73 L871.79 642.24 L873.54 648.48 L875.28 654.47 L877.03 660.2 L878.78 665.67 L880.52 670.89 L882.27 675.87 L884.02 680.61 L885.77 685.11 L887.51 689.39 L889.26 693.44 L891.01 697.28 L892.76 700.91 L894.5 704.34 L896.25 707.57 L898 710.62 L899.75 713.49 L901.49 716.19 L903.24 718.72 L904.99 721.09 L906.73 723.31 L908.48 725.38 L910.23 727.32 L911.98 729.13 L913.72 730.82 L915.47 732.39 L917.22 733.85 L918.97 735.2 L920.71 736.46 L922.46 737.62 L924.21 738.7 L925.96 739.69 L927.7 740.61 L929.45 741.45 L931.2 742.23 L932.94 742.95 L934.69 743.6 L936.44 744.21 L938.19 744.76 L939.93 745.27 L941.68 745.73 L943.43 746.15 L945.18 746.54 L946.92 746.89 L948.67 747.21 L950.42 747.5 L952.16 747.76 L953.91 748 L955.66 748.22 L957.41 748.42 L959.15 748.59 L960.9 748.75 L962.65 748.9 L964.4 749.03 L966.14 749.14 L967.89 749.25 L969.64 749.34 L971.39 749.43 L973.13 749.5 L974.88 749.57 L976.63 749.63 L978.37 749.69 L980.12 749.73 L981.87 749.78 L983.62 749.82 L985.36 749.85 L987.11 749.88 L988.86 749.91 L990.61 749.93 L992.35 749.95 L994.1 749.97 L995.85 749.99 L997.59 750 L999.34 750.01 L1001.09 750.02 L1002.84 750.03 L1004.58 750.04 L1006.33 750.05 L1008.08 750.06 L1009.83 750.06 L1011.57 750.07 L1013.32 750.07 L1015.07 750.08 L1020.31 750.08 L1022.06 750.09 L1032.54 750.09 L1034.29 750.1 L1058.75 750.1" fill="none" stroke="#ff0000" stroke-width="1.6" stroke-linejoin="round"/>
<path d="M665.77 750.1 V673.17" fill="none" stroke="#ff0000" stroke-width="1.56" stroke-dasharray="5.8 2.5"/><path d="M719.66 750.1 V405.32" fill="none" stroke="#ff0000" stroke-width="1.56" stroke-dasharray="5.8 2.5"/><path d="M827.43 750.1 V405.32" fill="none" stroke="#ff0000" stroke-width="1.56" stroke-dasharray="5.8 2.5"/><path d="M881.31 750.1 V673.17" fill="none" stroke="#ff0000" stroke-width="1.56" stroke-dasharray="5.8 2.5"/>
<path d="M97.16 750.1 L270.25 750.1 L272.65 750.09 L284.67 750.09 L287.08 750.08 L291.89 750.08 L294.29 750.07 L296.69 750.07 L299.1 750.06 L301.5 750.06 L303.91 750.05 L306.31 750.04 L308.71 750.03 L311.12 750.02 L313.52 750 L315.93 749.99 L318.33 749.97 L320.73 749.94 L323.14 749.92 L325.54 749.89 L327.94 749.85 L330.35 749.82 L332.75 749.77 L335.16 749.72 L337.56 749.66 L339.96 749.59 L342.37 749.52 L344.77 749.43 L347.18 749.33 L349.58 749.22 L351.98 749.09 L354.39 748.95 L356.79 748.79 L359.2 748.6 L361.6 748.4 L364 748.16 L366.41 747.9 L368.81 747.61 L371.22 747.29 L373.62 746.92 L376.02 746.52 L378.43 746.06 L380.83 745.56 L383.24 745 L385.64 744.39 L388.04 743.7 L390.45 742.95 L392.85 742.12 L395.26 741.2 L397.66 740.2 L400.06 739.09 L402.47 737.88 L404.87 736.56 L407.28 735.12 L409.68 733.54 L412.08 731.83 L414.49 729.97 L416.89 727.95 L419.3 725.77 L421.7 723.41 L424.1 720.86 L426.51 718.12 L428.91 715.17 L431.32 712 L433.72 708.61 L436.12 704.98 L438.53 701.1 L440.93 696.97 L443.34 692.57 L445.74 687.9 L448.14 682.95 L450.55 677.71 L452.95 672.18 L455.36 666.34 L457.76 660.2 L460.16 653.74 L462.57 646.98 L464.97 639.89 L467.38 632.5 L469.78 624.79 L472.18 616.76 L474.59 608.43 L476.99 599.8 L479.39 590.87 L481.8 581.66 L484.2 572.18 L486.61 562.43 L489.01 552.44 L491.41 542.22 L493.82 531.79 L496.22 521.16 L498.63 510.37 L501.03 499.44 L503.43 488.38 L505.84 477.24 L508.24 466.04 L510.65 454.8 L513.05 443.57 L515.45 432.37 L517.86 421.24 L520.26 410.22 L522.67 399.34 L525.07 388.63 L527.47 378.14 L529.88 367.91 L532.28 357.96 L534.69 348.33 L537.09 339.07 L539.49 330.21 L541.9 321.78 L544.3 313.81 L546.71 306.34 L549.11 299.4 L551.51 293.02 L553.92 287.22 L556.32 282.03 L558.73 277.46 L561.13 273.55 L563.53 270.3 L565.94 267.73 L568.34 265.85 L570.75 264.68 L573.15 264.2 L575.55 264.43 L577.96 265.37 L580.36 267.01 L582.77 269.34 L585.17 272.36 L587.57 276.05 L589.98 280.39 L592.38 285.37 L594.79 290.97 L597.19 297.15 L599.59 303.91 L602 311.2 L604.4 319 L606.81 327.27 L609.21 335.99 L611.61 345.12 L614.02 354.63 L616.42 364.47 L618.82 374.61 L621.23 385.02 L623.63 395.65 L626.04 406.48 L628.44 417.46 L630.84 428.55 L633.25 439.73 L635.65 450.96 L638.06 462.19 L640.46 473.41 L642.86 484.58 L645.27 495.67 L647.67 506.64 L650.08 517.49 L652.48 528.17 L654.88 538.67 L657.29 548.97 L659.69 559.04 L662.1 568.87 L664.5 578.45 L666.9 587.75 L669.31 596.78 L671.71 605.51 L674.12 613.95 L676.52 622.07 L678.92 629.89 L681.33 637.4 L683.73 644.59 L686.14 651.46 L688.54 658.02 L690.94 664.27 L693.35 670.21 L695.75 675.85 L698.16 681.19 L700.56 686.24 L702.96 691.01 L705.37 695.5 L707.77 699.72 L710.18 703.68 L712.58 707.39 L714.98 710.87 L717.39 714.11 L719.79 717.13 L722.2 719.95 L724.6 722.56 L727 724.98 L729.41 727.23 L731.81 729.3 L734.22 731.21 L736.62 732.97 L739.02 734.59 L741.43 736.08 L743.83 737.44 L746.24 738.69 L748.64 739.83 L751.04 740.87 L753.45 741.81 L755.85 742.67 L758.26 743.45 L760.66 744.16 L763.06 744.8 L765.47 745.38 L767.87 745.9 L770.27 746.37 L772.68 746.79 L775.08 747.17 L777.49 747.5 L779.89 747.81 L782.29 748.08 L784.7 748.32 L787.1 748.53 L789.51 748.72 L791.91 748.89 L794.31 749.04 L796.72 749.18 L799.12 749.29 L801.53 749.4 L803.93 749.49 L806.33 749.57 L808.74 749.64 L811.14 749.7 L813.55 749.75 L815.95 749.8 L818.35 749.84 L820.76 749.88 L823.16 749.91 L825.57 749.94 L827.97 749.96 L830.37 749.98 L832.78 750 L835.18 750.01 L837.59 750.02 L839.99 750.04 L842.39 750.05 L844.8 750.05 L847.2 750.06 L849.61 750.07 L852.01 750.07 L854.41 750.08 L859.22 750.08 L861.63 750.09 L873.65 750.09 L876.05 750.1 L1058.75 750.1" fill="none" stroke="#008000" stroke-width="1.6" stroke-linejoin="round"/>
<path d="M447.48 750.1 V684.34" fill="none" stroke="#008000" stroke-width="1.56" stroke-dasharray="5.8 2.5"/><path d="M510.52 750.1 V455.38" fill="none" stroke="#008000" stroke-width="1.56" stroke-dasharray="5.8 2.5"/><path d="M636.6 750.1 V455.38" fill="none" stroke="#008000" stroke-width="1.56" stroke-dasharray="5.8 2.5"/><path d="M699.64 750.1 V684.34" fill="none" stroke="#008000" stroke-width="1.56" stroke-dasharray="5.8 2.5"/>
</g>
<g clip-path="url(#c1)">
<path d="M1556.44 750.05 L1557.6 750.04 L1558.76 750.03 L1559.91 750.03 L1561.07 750.02 L1562.23 750.01 L1563.39 750.01 L1564.55 750 L1565.71 749.99 L1566.87 749.98 L1568.02 749.96 L1569.18 749.95 L1570.34 749.94 L1571.5 749.92 L1572.66 749.91 L1573.82 749.89 L1574.98 749.87 L1576.13 749.85 L1577.29 749.83 L1578.45 749.81 L1579.61 749.78 L1580.77 749.75 L1581.93 749.72 L1583.08 749.69 L1584.24 749.66 L1585.4 749.62 L1586.56 749.58 L1587.72 749.54 L1588.88 749.49 L1590.04 749.44 L1591.19 749.39 L1592.35 749.33 L1593.51 749.27 L1594.67 749.2 L1595.83 749.13 L1596.99 749.05 L1598.15 748.97 L1599.3 748.88 L1600.46 748.78 L1601.62 748.68 L1602.78 748.57 L1603.94 748.45 L1605.1 748.33 L1606.26 748.19 L1607.41 748.05 L1608.57 747.9 L1609.73 747.73 L1610.89 747.56 L1612.05 747.37 L1613.21 747.18 L1614.37 746.97 L1615.52 746.74 L1616.68 746.5 L1617.84 746.25 L1619 745.98 L1620.16 745.69 L1621.32 745.39 L1622.47 745.06 L1623.63 744.72 L1624.79 744.36 L1625.95 743.97 L1627.11 743.56 L1628.27 743.13 L1629.43 742.67 L1630.58 742.19 L1631.74 741.68 L1632.9 741.14 L1634.06 740.57 L1635.22 739.97 L1636.38 739.33 L1637.54 738.66 L1638.69 737.96 L1639.85 737.21 L1641.01 736.43 L1642.17 735.61 L1643.33 734.74 L1644.49 733.83 L1645.65 732.88 L1646.8 731.87 L1647.96 730.82 L1649.12 729.72 L1650.28 728.56 L1651.44 727.35 L1652.6 726.08 L1653.76 724.75 L1654.91 723.36 L1656.07 721.9 L1657.23 720.38 L1658.39 718.8 L1659.55 717.14 L1660.71 715.42 L1661.86 713.61 L1663.02 711.74 L1664.18 709.78 L1665.34 707.75 L1666.5 705.63 L1667.66 703.43 L1668.82 701.14 L1669.97 698.77 L1671.13 696.3 L1672.29 693.75 L1673.45 691.09 L1674.61 688.34 L1675.77 685.5 L1676.93 682.55 L1678.08 679.5 L1679.24 676.35 L1680.4 673.09 L1681.56 669.73 L1682.72 666.26 L1683.88 662.67 L1685.04 658.98 L1686.19 655.18 L1687.35 651.26 L1688.51 647.23 L1689.67 643.08 L1690.83 638.81 L1691.99 634.44 L1693.14 629.94 L1694.3 625.33 L1695.46 620.6 L1696.62 615.75 L1697.78 610.78 L1698.94 605.7 L1700.1 600.5 L1701.25 595.19 L1702.41 589.76 L1703.57 584.22 L1704.73 578.57 L1705.89 572.81 L1707.05 566.93 L1708.21 560.95 L1709.36 554.87 L1710.52 548.68 L1711.68 542.39 L1712.84 536.01 L1714 529.53 L1715.16 522.96 L1716.32 516.3 L1717.47 509.56 L1718.63 502.73 L1719.79 495.84 L1720.95 488.87 L1722.11 481.83 L1723.27 474.73 L1724.43 467.58 L1725.58 460.37 L1726.74 453.11 L1727.9 445.82 L1729.06 438.49 L1730.22 431.13 L1731.38 423.75 L1732.53 416.35 L1733.69 408.94 L1734.85 401.52 L1736.01 394.12 L1737.17 386.72 L1738.33 379.34 L1739.49 371.98 L1740.64 364.66 L1741.8 357.37 L1742.96 350.14 L1744.12 342.95 L1745.28 335.84 L1746.44 328.79 L1747.6 321.82 L1748.75 314.93 L1749.91 308.14 L1751.07 301.45 L1752.23 294.87 L1753.39 288.41 L1754.55 282.07 L1755.71 275.86 L1756.86 269.79 L1758.02 263.87 L1759.18 258.11 L1760.34 252.5 L1761.5 247.07 L1762.66 241.81 L1763.82 236.73 L1764.97 231.85 L1766.13 227.15 L1767.29 222.66 L1768.45 218.38 L1769.61 214.31 L1770.77 210.45 L1771.92 206.83 L1773.08 203.42 L1774.24 200.26 L1775.4 197.33 L1776.56 194.64 L1777.72 192.19 L1778.88 190 L1780.03 188.05 L1781.19 186.36 L1782.35 184.92 L1783.51 183.75 L1784.67 182.83 L1785.83 182.17 L1786.99 181.78 L1788.14 181.65 L1789.3 181.78 L1790.46 182.17 L1791.62 182.83 L1792.78 183.75 L1793.94 184.92 L1795.1 186.36 L1796.25 188.05 L1797.41 190 L1798.57 192.19 L1799.73 194.64 L1800.89 197.33 L1802.05 200.26 L1803.2 203.42 L1804.36 206.83 L1805.52 210.45 L1806.68 214.31 L1807.84 218.38 L1809 222.66 L1810.16 227.15 L1811.31 231.85 L1812.47 236.73 L1813.63 241.81 L1814.79 247.07 L1815.95 252.5 L1817.11 258.11 L1818.27 263.87 L1819.42 269.79 L1820.58 275.86 L1821.74 282.07 L1822.9 288.41 L1824.06 294.87 L1825.22 301.45 L1826.38 308.14 L1827.53 314.93 L1828.69 321.82 L1829.85 328.79 L1831.01 335.84 L1832.17 342.95 L1833.33 350.14 L1834.49 357.37 L1835.64 364.66 L1836.8 371.98 L1837.96 379.34 L1839.12 386.72 L1840.28 394.12 L1841.44 401.52 L1842.59 408.94 L1843.75 416.35 L1844.91 423.75 L1846.07 431.13 L1847.23 438.49 L1848.39 445.82 L1849.55 453.11 L1850.7 460.37 L1851.86 467.58 L1853.02 474.73 L1854.18 481.83 L1855.34 488.87 L1856.5 495.84 L1857.66 502.73 L1858.81 509.56 L1859.97 516.3 L1861.13 522.96 L1862.29 529.53 L1863.45 536.01 L1864.61 542.39 L1865.77 548.68 L1866.92 554.87 L1868.08 560.95 L1869.24 566.93 L1870.4 572.81 L1871.56 578.57 L1872.72 584.22 L1873.88 589.76 L1875.03 595.19 L1876.19 600.5 L1877.35 605.7 L1878.51 610.78 L1879.67 615.75 L1880.83 620.6 L1881.98 625.33 L1883.14 629.94 L1884.3 634.44 L1885.46 638.81 L1886.62 643.08 L1887.78 647.23 L1888.94 651.26 L1890.09 655.18 L1891.25 658.98 L1892.41 662.67 L1893.57 666.26 L1894.73 669.73 L1895.89 673.09 L1897.05 676.35 L1898.2 679.5 L1899.36 682.55 L1900.52 685.5 L1901.68 688.34 L1902.84 691.09 L1904 693.75 L1905.16 696.3 L1906.31 698.77 L1907.47 701.14 L1908.63 703.43 L1909.79 705.63 L1910.95 707.75 L1912.11 709.78 L1913.26 711.74 L1914.42 713.61 L1915.58 715.42 L1916.74 717.14 L1917.9 718.8 L1919.06 720.38 L1920.22 721.9 L1921.37 723.36 L1922.53 724.75 L1923.69 726.08 L1924.85 727.35 L1926.01 728.56 L1927.17 729.72 L1928.33 730.82 L1929.48 731.87 L1930.64 732.88 L1931.8 733.83 L1932.96 734.74 L1934.12 735.61 L1935.28 736.43 L1936.44 737.21 L1937.59 737.96 L1938.75 738.66 L1939.91 739.33 L1941.07 739.97 L1942.23 740.57 L1943.39 741.14 L1944.55 741.68 L1945.7 742.19 L1946.86 742.67 L1948.02 743.13 L1949.18 743.56 L1950.34 743.97 L1951.5 744.36 L1952.65 744.72 L1953.81 745.06 L1954.97 745.39 L1956.13 745.69 L1957.29 745.98 L1958.45 746.25 L1959.61 746.5 L1960.76 746.74 L1961.92 746.97 L1963.08 747.18 L1964.24 747.37 L1965.4 747.56 L1966.56 747.73 L1967.72 747.9 L1968.87 748.05 L1970.03 748.19 L1971.19 748.33 L1972.35 748.45 L1973.51 748.57 L1974.67 748.68 L1975.83 748.78 L1976.98 748.88 L1978.14 748.97 L1979.3 749.05 L1980.46 749.13 L1981.62 749.2 L1982.78 749.27 L1983.94 749.33 L1985.09 749.39 L1986.25 749.44 L1987.41 749.49 L1988.57 749.54 L1989.73 749.58 L1990.89 749.62 L1992.04 749.66 L1993.2 749.69 L1994.36 749.72 L1995.52 749.75 L1996.68 749.78 L1997.84 749.81 L1999 749.83 L2000.15 749.85 L2001.31 749.87 L2002.47 749.89 L2003.63 749.91 L2004.79 749.92 L2005.95 749.94 L2007.11 749.95 L2008.26 749.96 L2009.42 749.98 L2010.58 749.99 L2011.74 750 L2012.9 750.01 L2014.06 750.01 L2015.22 750.02 L2016.37 750.03 L2017.53 750.03 L2018.69 750.04 L2019.85 750.05" fill="none" stroke="#ff0000" stroke-width="1.6" stroke-linejoin="round"/>
<path d="M1680.37 750.1 V673.17" fill="none" stroke="#ff0000" stroke-width="1.56" stroke-dasharray="5.8 2.5"/><path d="M1734.26 750.1 V405.32" fill="none" stroke="#ff0000" stroke-width="1.56" stroke-dasharray="5.8 2.5"/><path d="M1842.03 750.1 V405.32" fill="none" stroke="#ff0000" stroke-width="1.56" stroke-dasharray="5.8 2.5"/><path d="M1895.91 750.1 V673.17" fill="none" stroke="#ff0000" stroke-width="1.56" stroke-dasharray="5.8 2.5"/>
<path d="M1552.02 750.04 L1553.16 750.04 L1554.3 750.03 L1555.44 750.03 L1556.57 750.02 L1557.71 750.01 L1558.85 750 L1559.98 749.99 L1561.12 749.98 L1562.26 749.97 L1563.4 749.96 L1564.53 749.95 L1565.67 749.94 L1566.81 749.92 L1567.95 749.9 L1569.08 749.89 L1570.22 749.87 L1571.36 749.85 L1572.49 749.83 L1573.63 749.8 L1574.77 749.78 L1575.91 749.75 L1577.04 749.72 L1578.18 749.68 L1579.32 749.65 L1580.45 749.61 L1581.59 749.57 L1582.73 749.53 L1583.87 749.48 L1585 749.43 L1586.14 749.37 L1587.28 749.31 L1588.41 749.25 L1589.55 749.18 L1590.69 749.11 L1591.83 749.03 L1592.96 748.94 L1594.1 748.85 L1595.24 748.76 L1596.38 748.65 L1597.51 748.54 L1598.65 748.42 L1599.79 748.29 L1600.92 748.16 L1602.06 748.01 L1603.2 747.85 L1604.34 747.69 L1605.47 747.51 L1606.61 747.32 L1607.75 747.12 L1608.88 746.91 L1610.02 746.68 L1611.16 746.43 L1612.3 746.18 L1613.43 745.9 L1614.57 745.61 L1615.71 745.3 L1616.84 744.97 L1617.98 744.62 L1619.12 744.25 L1620.26 743.86 L1621.39 743.44 L1622.53 743 L1623.67 742.54 L1624.81 742.04 L1625.94 741.52 L1627.08 740.97 L1628.22 740.39 L1629.35 739.78 L1630.49 739.13 L1631.63 738.45 L1632.77 737.73 L1633.9 736.97 L1635.04 736.18 L1636.18 735.34 L1637.31 734.45 L1638.45 733.53 L1639.59 732.55 L1640.73 731.53 L1641.86 730.46 L1643 729.33 L1644.14 728.16 L1645.27 726.92 L1646.41 725.63 L1647.55 724.27 L1648.69 722.86 L1649.82 721.37 L1650.96 719.83 L1652.1 718.21 L1653.23 716.52 L1654.37 714.76 L1655.51 712.93 L1656.65 711.02 L1657.78 709.03 L1658.92 706.95 L1660.06 704.8 L1661.2 702.56 L1662.33 700.23 L1663.47 697.81 L1664.61 695.29 L1665.74 692.69 L1666.88 689.99 L1668.02 687.19 L1669.16 684.29 L1670.29 681.28 L1671.43 678.18 L1672.57 674.97 L1673.7 671.65 L1674.84 668.22 L1675.98 664.68 L1677.12 661.03 L1678.25 657.27 L1679.39 653.4 L1680.53 649.4 L1681.66 645.3 L1682.8 641.07 L1683.94 636.73 L1685.08 632.27 L1686.21 627.69 L1687.35 622.99 L1688.49 618.17 L1689.63 613.23 L1690.76 608.17 L1691.9 602.99 L1693.04 597.7 L1694.17 592.29 L1695.31 586.76 L1696.45 581.11 L1697.59 575.35 L1698.72 569.48 L1699.86 563.5 L1701 557.4 L1702.13 551.21 L1703.27 544.9 L1704.41 538.5 L1705.55 531.99 L1706.68 525.39 L1707.82 518.7 L1708.96 511.91 L1710.09 505.05 L1711.23 498.1 L1712.37 491.07 L1713.51 483.97 L1714.64 476.8 L1715.78 469.57 L1716.92 462.28 L1718.06 454.93 L1719.19 447.54 L1720.33 440.11 L1721.47 432.64 L1722.6 425.15 L1723.74 417.62 L1724.88 410.09 L1726.02 402.54 L1727.15 394.99 L1728.29 387.44 L1729.43 379.9 L1730.56 372.38 L1731.7 364.89 L1732.84 357.43 L1733.98 350.01 L1735.11 342.63 L1736.25 335.32 L1737.39 328.07 L1738.52 320.88 L1739.66 313.78 L1740.8 306.77 L1741.94 299.85 L1743.07 293.04 L1744.21 286.33 L1745.35 279.75 L1746.49 273.29 L1747.62 266.97 L1748.76 260.78 L1749.9 254.75 L1751.03 248.88 L1752.17 243.17 L1753.31 237.64 L1754.45 232.28 L1755.58 227.11 L1756.72 222.13 L1757.86 217.35 L1758.99 212.77 L1760.13 208.41 L1761.27 204.26 L1762.41 200.33 L1763.54 196.64 L1764.68 193.17 L1765.82 189.94 L1766.95 186.96 L1768.09 184.22 L1769.23 181.73 L1770.37 179.49 L1771.5 177.51 L1772.64 175.79 L1773.78 174.32 L1774.92 173.13 L1776.05 172.19 L1777.19 171.52 L1778.33 171.12 L1779.46 170.99 L1780.6 171.12 L1781.74 171.52 L1782.88 172.19 L1784.01 173.13 L1785.15 174.32 L1786.29 175.79 L1787.42 177.51 L1788.56 179.49 L1789.7 181.73 L1790.84 184.22 L1791.97 186.96 L1793.11 189.94 L1794.25 193.17 L1795.38 196.64 L1796.52 200.33 L1797.66 204.26 L1798.8 208.41 L1799.93 212.77 L1801.07 217.35 L1802.21 222.13 L1803.35 227.11 L1804.48 232.28 L1805.62 237.64 L1806.76 243.17 L1807.89 248.88 L1809.03 254.75 L1810.17 260.78 L1811.31 266.97 L1812.44 273.29 L1813.58 279.75 L1814.72 286.33 L1815.85 293.04 L1816.99 299.85 L1818.13 306.77 L1819.27 313.78 L1820.4 320.88 L1821.54 328.07 L1822.68 335.32 L1823.81 342.63 L1824.95 350.01 L1826.09 357.43 L1827.23 364.89 L1828.36 372.38 L1829.5 379.9 L1830.64 387.44 L1831.77 394.99 L1832.91 402.54 L1834.05 410.09 L1835.19 417.62 L1836.32 425.15 L1837.46 432.64 L1838.6 440.11 L1839.74 447.54 L1840.87 454.93 L1842.01 462.28 L1843.15 469.57 L1844.28 476.8 L1845.42 483.97 L1846.56 491.07 L1847.7 498.1 L1848.83 505.05 L1849.97 511.91 L1851.11 518.7 L1852.24 525.39 L1853.38 531.99 L1854.52 538.5 L1855.66 544.9 L1856.79 551.21 L1857.93 557.4 L1859.07 563.5 L1860.2 569.48 L1861.34 575.35 L1862.48 581.11 L1863.62 586.76 L1864.75 592.29 L1865.89 597.7 L1867.03 602.99 L1868.17 608.17 L1869.3 613.23 L1870.44 618.17 L1871.58 622.99 L1872.71 627.69 L1873.85 632.27 L1874.99 636.73 L1876.13 641.07 L1877.26 645.3 L1878.4 649.4 L1879.54 653.4 L1880.67 657.27 L1881.81 661.03 L1882.95 664.68 L1884.09 668.22 L1885.22 671.65 L1886.36 674.97 L1887.5 678.18 L1888.63 681.28 L1889.77 684.29 L1890.91 687.19 L1892.05 689.99 L1893.18 692.69 L1894.32 695.29 L1895.46 697.81 L1896.6 700.23 L1897.73 702.56 L1898.87 704.8 L1900.01 706.95 L1901.14 709.03 L1902.28 711.02 L1903.42 712.93 L1904.56 714.76 L1905.69 716.52 L1906.83 718.21 L1907.97 719.83 L1909.1 721.37 L1910.24 722.86 L1911.38 724.27 L1912.52 725.63 L1913.65 726.92 L1914.79 728.16 L1915.93 729.33 L1917.06 730.46 L1918.2 731.53 L1919.34 732.55 L1920.48 733.53 L1921.61 734.45 L1922.75 735.34 L1923.89 736.18 L1925.03 736.97 L1926.16 737.73 L1927.3 738.45 L1928.44 739.13 L1929.57 739.78 L1930.71 740.39 L1931.85 740.97 L1932.99 741.52 L1934.12 742.04 L1935.26 742.54 L1936.4 743 L1937.53 743.44 L1938.67 743.86 L1939.81 744.25 L1940.95 744.62 L1942.08 744.97 L1943.22 745.3 L1944.36 745.61 L1945.49 745.9 L1946.63 746.18 L1947.77 746.43 L1948.91 746.68 L1950.04 746.91 L1951.18 747.12 L1952.32 747.32 L1953.46 747.51 L1954.59 747.69 L1955.73 747.85 L1956.87 748.01 L1958 748.16 L1959.14 748.29 L1960.28 748.42 L1961.42 748.54 L1962.55 748.65 L1963.69 748.76 L1964.83 748.85 L1965.96 748.94 L1967.1 749.03 L1968.24 749.11 L1969.38 749.18 L1970.51 749.25 L1971.65 749.31 L1972.79 749.37 L1973.92 749.43 L1975.06 749.48 L1976.2 749.53 L1977.34 749.57 L1978.47 749.61 L1979.61 749.65 L1980.75 749.68 L1981.89 749.72 L1983.02 749.75 L1984.16 749.78 L1985.3 749.8 L1986.43 749.83 L1987.57 749.85 L1988.71 749.87 L1989.85 749.89 L1990.98 749.9 L1992.12 749.92 L1993.26 749.94 L1994.39 749.95 L1995.53 749.96 L1996.67 749.97 L1997.81 749.98 L1998.94 749.99 L2000.08 750 L2001.22 750.01 L2002.35 750.02 L2003.49 750.03 L2004.63 750.03 L2005.77 750.04 L2006.9 750.04" fill="none" stroke="#808080" stroke-width="1.65" stroke-linejoin="round"/>
<path d="M1673.68 750.1 V671.73" fill="none" stroke="#808080" stroke-width="1.56" stroke-dasharray="5.8 2.5"/><path d="M1726.57 750.1 V398.85" fill="none" stroke="#808080" stroke-width="1.56" stroke-dasharray="5.8 2.5"/><path d="M1832.36 750.1 V398.85" fill="none" stroke="#808080" stroke-width="1.56" stroke-dasharray="5.8 2.5"/><path d="M1885.25 750.1 V671.73" fill="none" stroke="#808080" stroke-width="1.56" stroke-dasharray="5.8 2.5"/>
</g>
<g clip-path="url(#c2)">
<path d="M190.37 1499.26 L192 1499.26 L193.64 1499.25 L195.27 1499.25 L196.9 1499.24 L198.54 1499.24 L200.17 1499.23 L201.8 1499.23 L203.44 1499.22 L205.07 1499.21 L206.7 1499.2 L208.34 1499.2 L209.97 1499.19 L211.61 1499.18 L213.24 1499.16 L214.87 1499.15 L216.51 1499.14 L218.14 1499.12 L219.77 1499.11 L221.41 1499.09 L223.04 1499.07 L224.67 1499.05 L226.31 1499.03 L227.94 1499.01 L229.57 1498.99 L231.21 1498.96 L232.84 1498.93 L234.48 1498.9 L236.11 1498.87 L237.74 1498.83 L239.38 1498.79 L241.01 1498.75 L242.64 1498.71 L244.28 1498.66 L245.91 1498.61 L247.54 1498.55 L249.18 1498.5 L250.81 1498.43 L252.44 1498.36 L254.08 1498.29 L255.71 1498.21 L257.35 1498.13 L258.98 1498.04 L260.61 1497.95 L262.25 1497.85 L263.88 1497.74 L265.51 1497.62 L267.15 1497.5 L268.78 1497.37 L270.41 1497.23 L272.05 1497.08 L273.68 1496.92 L275.31 1496.75 L276.95 1496.57 L278.58 1496.38 L280.22 1496.17 L281.85 1495.96 L283.48 1495.73 L285.12 1495.49 L286.75 1495.23 L288.38 1494.95 L290.02 1494.66 L291.65 1494.36 L293.28 1494.03 L294.92 1493.69 L296.55 1493.33 L298.18 1492.95 L299.82 1492.54 L301.45 1492.11 L303.09 1491.66 L304.72 1491.19 L306.35 1490.69 L307.99 1490.16 L309.62 1489.61 L311.25 1489.02 L312.89 1488.41 L314.52 1487.76 L316.15 1487.09 L317.79 1486.37 L319.42 1485.63 L321.05 1484.84 L322.69 1484.02 L324.32 1483.16 L325.96 1482.26 L327.59 1481.32 L329.22 1480.33 L330.86 1479.3 L332.49 1478.23 L334.12 1477.1 L335.76 1475.93 L337.39 1474.7 L339.02 1473.42 L340.66 1472.09 L342.29 1470.71 L343.92 1469.26 L345.56 1467.76 L347.19 1466.2 L348.83 1464.58 L350.46 1462.9 L352.09 1461.15 L353.73 1459.33 L355.36 1457.45 L356.99 1455.5 L358.63 1453.48 L360.26 1451.39 L361.89 1449.23 L363.53 1447 L365.16 1444.69 L366.79 1442.3 L368.43 1439.84 L370.06 1437.3 L371.7 1434.68 L373.33 1431.98 L374.96 1429.2 L376.6 1426.34 L378.23 1423.4 L379.86 1420.38 L381.5 1417.27 L383.13 1414.08 L384.76 1410.81 L386.4 1407.46 L388.03 1404.02 L389.66 1400.5 L391.3 1396.89 L392.93 1393.21 L394.57 1389.44 L396.2 1385.59 L397.83 1381.66 L399.47 1377.65 L401.1 1373.56 L402.73 1369.4 L404.37 1365.16 L406 1360.84 L407.63 1356.45 L409.27 1351.99 L410.9 1347.47 L412.53 1342.87 L414.17 1338.21 L415.8 1333.49 L417.44 1328.71 L419.07 1323.87 L420.7 1318.98 L422.34 1314.03 L423.97 1309.04 L425.6 1304.01 L427.24 1298.93 L428.87 1293.82 L430.5 1288.68 L432.14 1283.5 L433.77 1278.31 L435.4 1273.09 L437.04 1267.85 L438.67 1262.6 L440.31 1257.35 L441.94 1252.09 L443.57 1246.84 L445.21 1241.59 L446.84 1236.35 L448.47 1231.14 L450.11 1225.94 L451.74 1220.78 L453.37 1215.65 L455.01 1210.55 L456.64 1205.5 L458.27 1200.5 L459.91 1195.56 L461.54 1190.68 L463.18 1185.86 L464.81 1181.12 L466.44 1176.45 L468.08 1171.87 L469.71 1167.37 L471.34 1162.97 L472.98 1158.67 L474.61 1154.47 L476.24 1150.38 L477.88 1146.41 L479.51 1142.55 L481.14 1138.82 L482.78 1135.22 L484.41 1131.75 L486.05 1128.43 L487.68 1125.24 L489.31 1122.2 L490.95 1119.32 L492.58 1116.58 L494.21 1114.01 L495.85 1111.6 L497.48 1109.35 L499.11 1107.27 L500.75 1105.37 L502.38 1103.63 L504.01 1102.07 L505.65 1100.7 L507.28 1099.5 L508.92 1098.48 L510.55 1097.64 L512.18 1096.99 L513.82 1096.53 L515.45 1096.25 L517.08 1096.16 L518.72 1096.25 L520.35 1096.53 L521.98 1096.99 L523.62 1097.64 L525.25 1098.48 L526.88 1099.5 L528.52 1100.7 L530.15 1102.07 L531.79 1103.63 L533.42 1105.37 L535.05 1107.27 L536.69 1109.35 L538.32 1111.6 L539.95 1114.01 L541.59 1116.58 L543.22 1119.32 L544.85 1122.2 L546.49 1125.24 L548.12 1128.43 L549.75 1131.75 L551.39 1135.22 L553.02 1138.82 L554.66 1142.55 L556.29 1146.41 L557.92 1150.38 L559.56 1154.47 L561.19 1158.67 L562.82 1162.97 L564.46 1167.37 L566.09 1171.87 L567.72 1176.45 L569.36 1181.12 L570.99 1185.86 L572.62 1190.68 L574.26 1195.56 L575.89 1200.5 L577.53 1205.5 L579.16 1210.55 L580.79 1215.65 L582.43 1220.78 L584.06 1225.94 L585.69 1231.14 L587.33 1236.35 L588.96 1241.59 L590.59 1246.84 L592.23 1252.09 L593.86 1257.35 L595.49 1262.6 L597.13 1267.85 L598.76 1273.09 L600.4 1278.31 L602.03 1283.5 L603.66 1288.68 L605.3 1293.82 L606.93 1298.93 L608.56 1304.01 L610.2 1309.04 L611.83 1314.03 L613.46 1318.98 L615.1 1323.87 L616.73 1328.71 L618.36 1333.49 L620 1338.21 L621.63 1342.87 L623.27 1347.47 L624.9 1351.99 L626.53 1356.45 L628.17 1360.84 L629.8 1365.16 L631.43 1369.4 L633.07 1373.56 L634.7 1377.65 L636.33 1381.66 L637.97 1385.59 L639.6 1389.44 L641.23 1393.21 L642.87 1396.89 L644.5 1400.5 L646.14 1404.02 L647.77 1407.46 L649.4 1410.81 L651.04 1414.08 L652.67 1417.27 L654.3 1420.38 L655.94 1423.4 L657.57 1426.34 L659.2 1429.2 L660.84 1431.98 L662.47 1434.68 L664.1 1437.3 L665.74 1439.84 L667.37 1442.3 L669.01 1444.69 L670.64 1447 L672.27 1449.23 L673.91 1451.39 L675.54 1453.48 L677.17 1455.5 L678.81 1457.45 L680.44 1459.33 L682.07 1461.15 L683.71 1462.9 L685.34 1464.58 L686.97 1466.2 L688.61 1467.76 L690.24 1469.26 L691.88 1470.71 L693.51 1472.09 L695.14 1473.42 L696.78 1474.7 L698.41 1475.93 L700.04 1477.1 L701.68 1478.23 L703.31 1479.3 L704.94 1480.33 L706.58 1481.32 L708.21 1482.26 L709.84 1483.16 L711.48 1484.02 L713.11 1484.84 L714.75 1485.63 L716.38 1486.37 L718.01 1487.09 L719.65 1487.76 L721.28 1488.41 L722.91 1489.02 L724.55 1489.61 L726.18 1490.16 L727.81 1490.69 L729.45 1491.19 L731.08 1491.66 L732.71 1492.11 L734.35 1492.54 L735.98 1492.95 L737.62 1493.33 L739.25 1493.69 L740.88 1494.03 L742.52 1494.36 L744.15 1494.66 L745.78 1494.95 L747.42 1495.23 L749.05 1495.49 L750.68 1495.73 L752.32 1495.96 L753.95 1496.17 L755.58 1496.38 L757.22 1496.57 L758.85 1496.75 L760.49 1496.92 L762.12 1497.08 L763.75 1497.23 L765.39 1497.37 L767.02 1497.5 L768.65 1497.62 L770.29 1497.74 L771.92 1497.85 L773.55 1497.95 L775.19 1498.04 L776.82 1498.13 L778.45 1498.21 L780.09 1498.29 L781.72 1498.36 L783.36 1498.43 L784.99 1498.5 L786.62 1498.55 L788.26 1498.61 L789.89 1498.66 L791.52 1498.71 L793.16 1498.75 L794.79 1498.79 L796.42 1498.83 L798.06 1498.87 L799.69 1498.9 L801.32 1498.93 L802.96 1498.96 L804.59 1498.99 L806.23 1499.01 L807.86 1499.03 L809.49 1499.05 L811.13 1499.07 L812.76 1499.09 L814.39 1499.11 L816.03 1499.12 L817.66 1499.14 L819.29 1499.15 L820.93 1499.16 L822.56 1499.18 L824.19 1499.19 L825.83 1499.2 L827.46 1499.2 L829.1 1499.21 L830.73 1499.22 L832.36 1499.23 L834 1499.23 L835.63 1499.24 L837.26 1499.24 L838.9 1499.25 L840.53 1499.25 L842.16 1499.26 L843.8 1499.26" fill="none" stroke="#ffcc00" stroke-width="1.5" stroke-linejoin="round"/>
<path d="M365.12 1499.3 V1444.74" fill="none" stroke="#ffcc00" stroke-width="1.56" stroke-dasharray="5.8 2.5"/><path d="M441.1 1499.3 V1254.78" fill="none" stroke="#ffcc00" stroke-width="1.56" stroke-dasharray="5.8 2.5"/><path d="M593.06 1499.3 V1254.78" fill="none" stroke="#ffcc00" stroke-width="1.56" stroke-dasharray="5.8 2.5"/><path d="M669.04 1499.3 V1444.74" fill="none" stroke="#ffcc00" stroke-width="1.56" stroke-dasharray="5.8 2.5"/>
<path d="M302.5 1499.25 L303.85 1499.25 L305.21 1499.24 L306.56 1499.24 L307.92 1499.23 L309.27 1499.23 L310.63 1499.22 L311.98 1499.21 L313.34 1499.2 L314.69 1499.19 L316.05 1499.18 L317.4 1499.17 L318.76 1499.16 L320.11 1499.15 L321.47 1499.14 L322.82 1499.12 L324.18 1499.11 L325.54 1499.09 L326.89 1499.07 L328.25 1499.05 L329.6 1499.03 L330.96 1499 L332.31 1498.98 L333.67 1498.95 L335.02 1498.92 L336.38 1498.89 L337.73 1498.86 L339.09 1498.82 L340.44 1498.78 L341.8 1498.74 L343.15 1498.69 L344.51 1498.64 L345.87 1498.59 L347.22 1498.53 L348.58 1498.47 L349.93 1498.4 L351.29 1498.33 L352.64 1498.25 L354 1498.17 L355.35 1498.08 L356.71 1497.99 L358.06 1497.89 L359.42 1497.78 L360.77 1497.67 L362.13 1497.55 L363.48 1497.42 L364.84 1497.28 L366.2 1497.13 L367.55 1496.97 L368.91 1496.8 L370.26 1496.62 L371.62 1496.43 L372.97 1496.22 L374.33 1496.01 L375.68 1495.78 L377.04 1495.53 L378.39 1495.27 L379.75 1495 L381.1 1494.7 L382.46 1494.39 L383.81 1494.06 L385.17 1493.71 L386.53 1493.34 L387.88 1492.95 L389.24 1492.54 L390.59 1492.1 L391.95 1491.64 L393.3 1491.15 L394.66 1490.64 L396.01 1490.1 L397.37 1489.52 L398.72 1488.92 L400.08 1488.28 L401.43 1487.62 L402.79 1486.91 L404.14 1486.17 L405.5 1485.4 L406.86 1484.58 L408.21 1483.72 L409.57 1482.82 L410.92 1481.88 L412.28 1480.89 L413.63 1479.85 L414.99 1478.76 L416.34 1477.63 L417.7 1476.44 L419.05 1475.2 L420.41 1473.9 L421.76 1472.54 L423.12 1471.13 L424.47 1469.65 L425.83 1468.11 L427.19 1466.51 L428.54 1464.84 L429.9 1463.1 L431.25 1461.29 L432.61 1459.41 L433.96 1457.45 L435.32 1455.42 L436.67 1453.32 L438.03 1451.13 L439.38 1448.86 L440.74 1446.51 L442.09 1444.08 L443.45 1441.56 L444.8 1438.95 L446.16 1436.26 L447.52 1433.47 L448.87 1430.6 L450.23 1427.63 L451.58 1424.57 L452.94 1421.41 L454.29 1418.16 L455.65 1414.81 L457 1411.36 L458.36 1407.82 L459.71 1404.17 L461.07 1400.43 L462.42 1396.59 L463.78 1392.64 L465.13 1388.6 L466.49 1384.46 L467.85 1380.21 L469.2 1375.87 L470.56 1371.43 L471.91 1366.89 L473.27 1362.25 L474.62 1357.51 L475.98 1352.68 L477.33 1347.75 L478.69 1342.73 L480.04 1337.62 L481.4 1332.42 L482.75 1327.13 L484.11 1321.75 L485.46 1316.29 L486.82 1310.76 L488.18 1305.14 L489.53 1299.45 L490.89 1293.69 L492.24 1287.85 L493.6 1281.96 L494.95 1276 L496.31 1269.99 L497.66 1263.92 L499.02 1257.8 L500.37 1251.64 L501.73 1245.44 L503.08 1239.2 L504.44 1232.94 L505.79 1226.65 L507.15 1220.33 L508.51 1214.01 L509.86 1207.68 L511.22 1201.34 L512.57 1195.01 L513.93 1188.68 L515.28 1182.37 L516.64 1176.09 L517.99 1169.83 L519.35 1163.6 L520.7 1157.41 L522.06 1151.28 L523.41 1145.19 L524.77 1139.16 L526.12 1133.21 L527.48 1127.32 L528.84 1121.52 L530.19 1115.8 L531.55 1110.17 L532.9 1104.65 L534.26 1099.23 L535.61 1093.92 L536.97 1088.74 L538.32 1083.68 L539.68 1078.75 L541.03 1073.96 L542.39 1069.31 L543.74 1064.82 L545.1 1060.48 L546.45 1056.3 L547.81 1052.29 L549.17 1048.45 L550.52 1044.79 L551.88 1041.31 L553.23 1038.02 L554.59 1034.91 L555.94 1032.01 L557.3 1029.3 L558.65 1026.79 L560.01 1024.49 L561.36 1022.4 L562.72 1020.53 L564.07 1018.86 L565.43 1017.42 L566.78 1016.19 L568.14 1015.19 L569.5 1014.4 L570.85 1013.84 L572.21 1013.5 L573.56 1013.39 L574.92 1013.5 L576.27 1013.84 L577.63 1014.4 L578.98 1015.19 L580.34 1016.19 L581.69 1017.42 L583.05 1018.86 L584.4 1020.53 L585.76 1022.4 L587.11 1024.49 L588.47 1026.79 L589.83 1029.3 L591.18 1032.01 L592.54 1034.91 L593.89 1038.02 L595.25 1041.31 L596.6 1044.79 L597.96 1048.45 L599.31 1052.29 L600.67 1056.3 L602.02 1060.48 L603.38 1064.82 L604.73 1069.31 L606.09 1073.96 L607.44 1078.75 L608.8 1083.68 L610.15 1088.74 L611.51 1093.92 L612.87 1099.23 L614.22 1104.65 L615.58 1110.17 L616.93 1115.8 L618.29 1121.52 L619.64 1127.32 L621 1133.21 L622.35 1139.16 L623.71 1145.19 L625.06 1151.28 L626.42 1157.41 L627.77 1163.6 L629.13 1169.83 L630.48 1176.09 L631.84 1182.37 L633.2 1188.68 L634.55 1195.01 L635.91 1201.34 L637.26 1207.68 L638.62 1214.01 L639.97 1220.33 L641.33 1226.65 L642.68 1232.94 L644.04 1239.2 L645.39 1245.44 L646.75 1251.64 L648.1 1257.8 L649.46 1263.92 L650.81 1269.99 L652.17 1276 L653.53 1281.96 L654.88 1287.85 L656.24 1293.69 L657.59 1299.45 L658.95 1305.14 L660.3 1310.76 L661.66 1316.29 L663.01 1321.75 L664.37 1327.13 L665.72 1332.42 L667.08 1337.62 L668.43 1342.73 L669.79 1347.75 L671.14 1352.68 L672.5 1357.51 L673.86 1362.25 L675.21 1366.89 L676.57 1371.43 L677.92 1375.87 L679.28 1380.21 L680.63 1384.46 L681.99 1388.6 L683.34 1392.64 L684.7 1396.59 L686.05 1400.43 L687.41 1404.17 L688.76 1407.82 L690.12 1411.36 L691.47 1414.81 L692.83 1418.16 L694.19 1421.41 L695.54 1424.57 L696.9 1427.63 L698.25 1430.6 L699.61 1433.47 L700.96 1436.26 L702.32 1438.95 L703.67 1441.56 L705.03 1444.08 L706.38 1446.51 L707.74 1448.86 L709.09 1451.13 L710.45 1453.32 L711.8 1455.42 L713.16 1457.45 L714.52 1459.41 L715.87 1461.29 L717.23 1463.1 L718.58 1464.84 L719.94 1466.51 L721.29 1468.11 L722.65 1469.65 L724 1471.13 L725.36 1472.54 L726.71 1473.9 L728.07 1475.2 L729.42 1476.44 L730.78 1477.63 L732.13 1478.76 L733.49 1479.85 L734.85 1480.89 L736.2 1481.88 L737.56 1482.82 L738.91 1483.72 L740.27 1484.58 L741.62 1485.4 L742.98 1486.17 L744.33 1486.91 L745.69 1487.62 L747.04 1488.28 L748.4 1488.92 L749.75 1489.52 L751.11 1490.1 L752.46 1490.64 L753.82 1491.15 L755.18 1491.64 L756.53 1492.1 L757.89 1492.54 L759.24 1492.95 L760.6 1493.34 L761.95 1493.71 L763.31 1494.06 L764.66 1494.39 L766.02 1494.7 L767.37 1495 L768.73 1495.27 L770.08 1495.53 L771.44 1495.78 L772.79 1496.01 L774.15 1496.22 L775.51 1496.43 L776.86 1496.62 L778.22 1496.8 L779.57 1496.97 L780.93 1497.13 L782.28 1497.28 L783.64 1497.42 L784.99 1497.55 L786.35 1497.67 L787.7 1497.78 L789.06 1497.89 L790.41 1497.99 L791.77 1498.08 L793.12 1498.17 L794.48 1498.25 L795.84 1498.33 L797.19 1498.4 L798.55 1498.47 L799.9 1498.53 L801.26 1498.59 L802.61 1498.64 L803.97 1498.69 L805.32 1498.74 L806.68 1498.78 L808.03 1498.82 L809.39 1498.86 L810.74 1498.89 L812.1 1498.92 L813.45 1498.95 L814.81 1498.98 L816.17 1499 L817.52 1499.03 L818.88 1499.05 L820.23 1499.07 L821.59 1499.09 L822.94 1499.11 L824.3 1499.12 L825.65 1499.14 L827.01 1499.15 L828.36 1499.16 L829.72 1499.17 L831.07 1499.18 L832.43 1499.19 L833.78 1499.2 L835.14 1499.21 L836.5 1499.22 L837.85 1499.23 L839.21 1499.23 L840.56 1499.24 L841.92 1499.24 L843.27 1499.25 L844.63 1499.25" fill="none" stroke="#008000" stroke-width="1.6" stroke-linejoin="round"/>
<path d="M447.48 1499.3 V1433.54" fill="none" stroke="#008000" stroke-width="1.56" stroke-dasharray="5.8 2.5"/><path d="M510.52 1499.3 V1204.58" fill="none" stroke="#008000" stroke-width="1.56" stroke-dasharray="5.8 2.5"/><path d="M636.6 1499.3 V1204.58" fill="none" stroke="#008000" stroke-width="1.56" stroke-dasharray="5.8 2.5"/><path d="M699.64 1499.3 V1433.54" fill="none" stroke="#008000" stroke-width="1.56" stroke-dasharray="5.8 2.5"/>
<path d="M537.42 1499.24 L538.56 1499.24 L539.7 1499.23 L540.84 1499.23 L541.97 1499.22 L543.11 1499.21 L544.25 1499.2 L545.38 1499.19 L546.52 1499.18 L547.66 1499.17 L548.8 1499.16 L549.93 1499.15 L551.07 1499.14 L552.21 1499.12 L553.35 1499.1 L554.48 1499.09 L555.62 1499.07 L556.76 1499.05 L557.89 1499.03 L559.03 1499 L560.17 1498.98 L561.31 1498.95 L562.44 1498.92 L563.58 1498.88 L564.72 1498.85 L565.85 1498.81 L566.99 1498.77 L568.13 1498.73 L569.27 1498.68 L570.4 1498.63 L571.54 1498.57 L572.68 1498.51 L573.81 1498.45 L574.95 1498.38 L576.09 1498.31 L577.23 1498.23 L578.36 1498.14 L579.5 1498.05 L580.64 1497.96 L581.78 1497.85 L582.91 1497.74 L584.05 1497.62 L585.19 1497.49 L586.32 1497.36 L587.46 1497.21 L588.6 1497.05 L589.74 1496.89 L590.87 1496.71 L592.01 1496.52 L593.15 1496.32 L594.28 1496.11 L595.42 1495.88 L596.56 1495.63 L597.7 1495.38 L598.83 1495.1 L599.97 1494.81 L601.11 1494.5 L602.24 1494.17 L603.38 1493.82 L604.52 1493.45 L605.66 1493.06 L606.79 1492.64 L607.93 1492.2 L609.07 1491.74 L610.21 1491.24 L611.34 1490.72 L612.48 1490.17 L613.62 1489.59 L614.75 1488.98 L615.89 1488.33 L617.03 1487.65 L618.17 1486.93 L619.3 1486.17 L620.44 1485.38 L621.58 1484.54 L622.71 1483.65 L623.85 1482.73 L624.99 1481.75 L626.13 1480.73 L627.26 1479.66 L628.4 1478.53 L629.54 1477.36 L630.67 1476.12 L631.81 1474.83 L632.95 1473.47 L634.09 1472.06 L635.22 1470.57 L636.36 1469.03 L637.5 1467.41 L638.63 1465.72 L639.77 1463.96 L640.91 1462.13 L642.05 1460.22 L643.18 1458.23 L644.32 1456.15 L645.46 1454 L646.6 1451.76 L647.73 1449.43 L648.87 1447.01 L650.01 1444.49 L651.14 1441.89 L652.28 1439.19 L653.42 1436.39 L654.56 1433.49 L655.69 1430.48 L656.83 1427.38 L657.97 1424.17 L659.1 1420.85 L660.24 1417.42 L661.38 1413.88 L662.52 1410.23 L663.65 1406.47 L664.79 1402.6 L665.93 1398.6 L667.06 1394.5 L668.2 1390.27 L669.34 1385.93 L670.48 1381.47 L671.61 1376.89 L672.75 1372.19 L673.89 1367.37 L675.03 1362.43 L676.16 1357.37 L677.3 1352.19 L678.44 1346.9 L679.57 1341.49 L680.71 1335.96 L681.85 1330.31 L682.99 1324.55 L684.12 1318.68 L685.26 1312.7 L686.4 1306.6 L687.53 1300.41 L688.67 1294.1 L689.81 1287.7 L690.95 1281.19 L692.08 1274.59 L693.22 1267.9 L694.36 1261.11 L695.49 1254.25 L696.63 1247.3 L697.77 1240.27 L698.91 1233.17 L700.04 1226 L701.18 1218.77 L702.32 1211.48 L703.46 1204.13 L704.59 1196.74 L705.73 1189.31 L706.87 1181.84 L708 1174.35 L709.14 1166.82 L710.28 1159.29 L711.42 1151.74 L712.55 1144.19 L713.69 1136.64 L714.83 1129.1 L715.96 1121.58 L717.1 1114.09 L718.24 1106.63 L719.38 1099.21 L720.51 1091.83 L721.65 1084.52 L722.79 1077.27 L723.92 1070.08 L725.06 1062.98 L726.2 1055.97 L727.34 1049.05 L728.47 1042.24 L729.61 1035.53 L730.75 1028.95 L731.89 1022.49 L733.02 1016.17 L734.16 1009.98 L735.3 1003.95 L736.43 998.08 L737.57 992.37 L738.71 986.84 L739.85 981.48 L740.98 976.31 L742.12 971.33 L743.26 966.55 L744.39 961.97 L745.53 957.61 L746.67 953.46 L747.81 949.53 L748.94 945.84 L750.08 942.37 L751.22 939.14 L752.35 936.16 L753.49 933.42 L754.63 930.93 L755.77 928.69 L756.9 926.71 L758.04 924.99 L759.18 923.52 L760.32 922.33 L761.45 921.39 L762.59 920.72 L763.73 920.32 L764.86 920.19 L766 920.32 L767.14 920.72 L768.28 921.39 L769.41 922.33 L770.55 923.52 L771.69 924.99 L772.82 926.71 L773.96 928.69 L775.1 930.93 L776.24 933.42 L777.37 936.16 L778.51 939.14 L779.65 942.37 L780.78 945.84 L781.92 949.53 L783.06 953.46 L784.2 957.61 L785.33 961.97 L786.47 966.55 L787.61 971.33 L788.75 976.31 L789.88 981.48 L791.02 986.84 L792.16 992.37 L793.29 998.08 L794.43 1003.95 L795.57 1009.98 L796.71 1016.17 L797.84 1022.49 L798.98 1028.95 L800.12 1035.53 L801.25 1042.24 L802.39 1049.05 L803.53 1055.97 L804.67 1062.98 L805.8 1070.08 L806.94 1077.27 L808.08 1084.52 L809.21 1091.83 L810.35 1099.21 L811.49 1106.63 L812.63 1114.09 L813.76 1121.58 L814.9 1129.1 L816.04 1136.64 L817.17 1144.19 L818.31 1151.74 L819.45 1159.29 L820.59 1166.82 L821.72 1174.35 L822.86 1181.84 L824 1189.31 L825.14 1196.74 L826.27 1204.13 L827.41 1211.48 L828.55 1218.77 L829.68 1226 L830.82 1233.17 L831.96 1240.27 L833.1 1247.3 L834.23 1254.25 L835.37 1261.11 L836.51 1267.9 L837.64 1274.59 L838.78 1281.19 L839.92 1287.7 L841.06 1294.1 L842.19 1300.41 L843.33 1306.6 L844.47 1312.7 L845.6 1318.68 L846.74 1324.55 L847.88 1330.31 L849.02 1335.96 L850.15 1341.49 L851.29 1346.9 L852.43 1352.19 L853.57 1357.37 L854.7 1362.43 L855.84 1367.37 L856.98 1372.19 L858.11 1376.89 L859.25 1381.47 L860.39 1385.93 L861.53 1390.27 L862.66 1394.5 L863.8 1398.6 L864.94 1402.6 L866.07 1406.47 L867.21 1410.23 L868.35 1413.88 L869.49 1417.42 L870.62 1420.85 L871.76 1424.17 L872.9 1427.38 L874.03 1430.48 L875.17 1433.49 L876.31 1436.39 L877.45 1439.19 L878.58 1441.89 L879.72 1444.49 L880.86 1447.01 L882 1449.43 L883.13 1451.76 L884.27 1454 L885.41 1456.15 L886.54 1458.23 L887.68 1460.22 L888.82 1462.13 L889.96 1463.96 L891.09 1465.72 L892.23 1467.41 L893.37 1469.03 L894.5 1470.57 L895.64 1472.06 L896.78 1473.47 L897.92 1474.83 L899.05 1476.12 L900.19 1477.36 L901.33 1478.53 L902.46 1479.66 L903.6 1480.73 L904.74 1481.75 L905.88 1482.73 L907.01 1483.65 L908.15 1484.54 L909.29 1485.38 L910.43 1486.17 L911.56 1486.93 L912.7 1487.65 L913.84 1488.33 L914.97 1488.98 L916.11 1489.59 L917.25 1490.17 L918.39 1490.72 L919.52 1491.24 L920.66 1491.74 L921.8 1492.2 L922.93 1492.64 L924.07 1493.06 L925.21 1493.45 L926.35 1493.82 L927.48 1494.17 L928.62 1494.5 L929.76 1494.81 L930.89 1495.1 L932.03 1495.38 L933.17 1495.63 L934.31 1495.88 L935.44 1496.11 L936.58 1496.32 L937.72 1496.52 L938.86 1496.71 L939.99 1496.89 L941.13 1497.05 L942.27 1497.21 L943.4 1497.36 L944.54 1497.49 L945.68 1497.62 L946.82 1497.74 L947.95 1497.85 L949.09 1497.96 L950.23 1498.05 L951.36 1498.14 L952.5 1498.23 L953.64 1498.31 L954.78 1498.38 L955.91 1498.45 L957.05 1498.51 L958.19 1498.57 L959.32 1498.63 L960.46 1498.68 L961.6 1498.73 L962.74 1498.77 L963.87 1498.81 L965.01 1498.85 L966.15 1498.88 L967.29 1498.92 L968.42 1498.95 L969.56 1498.98 L970.7 1499 L971.83 1499.03 L972.97 1499.05 L974.11 1499.07 L975.25 1499.09 L976.38 1499.1 L977.52 1499.12 L978.66 1499.14 L979.79 1499.15 L980.93 1499.16 L982.07 1499.17 L983.21 1499.18 L984.34 1499.19 L985.48 1499.2 L986.62 1499.21 L987.75 1499.22 L988.89 1499.23 L990.03 1499.23 L991.17 1499.24 L992.3 1499.24" fill="none" stroke="#808080" stroke-width="1.65" stroke-linejoin="round"/>
<path d="M659.08 1499.3 V1420.93" fill="none" stroke="#808080" stroke-width="1.56" stroke-dasharray="5.8 2.5"/><path d="M711.97 1499.3 V1148.05" fill="none" stroke="#808080" stroke-width="1.56" stroke-dasharray="5.8 2.5"/><path d="M817.76 1499.3 V1148.05" fill="none" stroke="#808080" stroke-width="1.56" stroke-dasharray="5.8 2.5"/><path d="M870.65 1499.3 V1420.93" fill="none" stroke="#808080" stroke-width="1.56" stroke-dasharray="5.8 2.5"/>
</g>
<g clip-path="url(#c3)">
<path d="M1160.24 1499.3 L1586.17 1499.3 L1588.53 1499.29 L1597.94 1499.29 L1600.29 1499.28 L1602.65 1499.28 L1605 1499.27 L1607.35 1499.27 L1609.71 1499.26 L1612.06 1499.25 L1614.41 1499.24 L1616.77 1499.23 L1619.12 1499.21 L1621.47 1499.19 L1623.83 1499.17 L1626.18 1499.14 L1628.53 1499.1 L1630.89 1499.06 L1633.24 1499.01 L1635.59 1498.95 L1637.95 1498.87 L1640.3 1498.79 L1642.65 1498.68 L1645.01 1498.56 L1647.36 1498.42 L1649.71 1498.25 L1652.06 1498.05 L1654.42 1497.82 L1656.77 1497.55 L1659.12 1497.23 L1661.48 1496.86 L1663.83 1496.44 L1666.18 1495.95 L1668.54 1495.38 L1670.89 1494.73 L1673.24 1493.98 L1675.6 1493.13 L1677.95 1492.15 L1680.3 1491.04 L1682.66 1489.78 L1685.01 1488.35 L1687.36 1486.74 L1689.72 1484.92 L1692.07 1482.88 L1694.42 1480.6 L1696.78 1478.05 L1699.13 1475.21 L1701.48 1472.05 L1703.84 1468.55 L1706.19 1464.69 L1708.54 1460.43 L1710.9 1455.75 L1713.25 1450.62 L1715.6 1445.02 L1717.96 1438.91 L1720.31 1432.28 L1722.66 1425.09 L1725.02 1417.33 L1727.37 1408.97 L1729.72 1399.99 L1732.08 1390.38 L1734.43 1380.11 L1736.78 1369.19 L1739.13 1357.61 L1741.49 1345.35 L1743.84 1332.43 L1746.19 1318.86 L1748.55 1304.64 L1750.9 1289.79 L1753.25 1274.35 L1755.61 1258.34 L1757.96 1241.79 L1760.31 1224.77 L1762.67 1207.3 L1765.02 1189.46 L1767.37 1171.31 L1769.73 1152.91 L1772.08 1134.35 L1774.43 1115.7 L1776.79 1097.04 L1779.14 1078.48 L1781.49 1060.1 L1783.85 1042 L1786.2 1024.27 L1788.55 1007.03 L1790.91 990.36 L1793.26 974.38 L1795.61 959.17 L1797.97 944.83 L1800.32 931.45 L1802.67 919.13 L1805.03 907.94 L1807.38 897.95 L1809.73 889.25 L1812.09 881.87 L1814.44 875.89 L1816.79 871.33 L1819.14 868.23 L1821.5 866.62 L1823.85 866.5 L1826.2 867.87 L1828.56 870.73 L1830.91 875.05 L1833.26 880.81 L1835.62 887.96 L1837.97 896.46 L1840.32 906.24 L1842.68 917.24 L1845.03 929.39 L1847.38 942.6 L1849.74 956.79 L1852.09 971.86 L1854.44 987.73 L1856.8 1004.29 L1859.15 1021.45 L1861.5 1039.1 L1863.86 1057.15 L1866.21 1075.49 L1868.56 1094.03 L1870.92 1112.68 L1873.27 1131.34 L1875.62 1149.92 L1877.98 1168.35 L1880.33 1186.55 L1882.68 1204.44 L1885.04 1221.97 L1887.39 1239.07 L1889.74 1255.7 L1892.1 1271.8 L1894.45 1287.33 L1896.8 1302.28 L1899.15 1316.6 L1901.51 1330.28 L1903.86 1343.31 L1906.21 1355.67 L1908.57 1367.36 L1910.92 1378.39 L1913.27 1388.76 L1915.63 1398.48 L1917.98 1407.56 L1920.33 1416.02 L1922.69 1423.88 L1925.04 1431.16 L1927.39 1437.88 L1929.75 1444.07 L1932.1 1449.75 L1934.45 1454.95 L1936.81 1459.7 L1939.16 1464.03 L1941.51 1467.96 L1943.87 1471.51 L1946.22 1474.72 L1948.57 1477.61 L1950.93 1480.21 L1953.28 1482.53 L1955.63 1484.61 L1957.99 1486.46 L1960.34 1488.1 L1962.69 1489.56 L1965.05 1490.85 L1967.4 1491.98 L1969.75 1492.98 L1972.11 1493.85 L1974.46 1494.62 L1976.81 1495.28 L1979.17 1495.86 L1981.52 1496.36 L1983.87 1496.8 L1986.22 1497.18 L1988.58 1497.5 L1990.93 1497.78 L1993.28 1498.02 L1995.64 1498.22 L1997.99 1498.39 L2000.34 1498.54 L2002.7 1498.66 L2005.05 1498.77 L2007.4 1498.86 L2009.76 1498.93 L2012.11 1499 L2014.46 1499.05 L2016.82 1499.09 L2019.17 1499.13 L2021.52 1499.16 L2023.88 1499.19 L2026.23 1499.21 L2028.58 1499.22 L2030.94 1499.24 L2033.29 1499.25 L2035.64 1499.26 L2038 1499.27 L2040.35 1499.27 L2042.7 1499.28 L2045.06 1499.28 L2047.41 1499.29 L2056.82 1499.29 L2059.18 1499.3 L2101.53 1499.3" fill="none" stroke="#0000ff" stroke-width="1.35" stroke-linejoin="round"/>
<path d="M1726.07 1499.3 V1413.64" fill="none" stroke="#0000ff" stroke-width="1.56" stroke-dasharray="5.8 2.5"/><path d="M1774.47 1499.3 V1115.4" fill="none" stroke="#0000ff" stroke-width="1.56" stroke-dasharray="5.8 2.5"/><path d="M1871.26 1499.3 V1115.4" fill="none" stroke="#0000ff" stroke-width="1.56" stroke-dasharray="5.8 2.5"/><path d="M1919.65 1499.3 V1413.64" fill="none" stroke="#0000ff" stroke-width="1.56" stroke-dasharray="5.8 2.5"/>
<path d="M1160.24 1499.3 L1527.6 1499.3 L1529.82 1499.29 L1538.73 1499.29 L1540.96 1499.28 L1545.41 1499.28 L1547.63 1499.27 L1549.86 1499.27 L1552.09 1499.26 L1554.31 1499.25 L1556.54 1499.24 L1558.77 1499.23 L1560.99 1499.22 L1563.22 1499.21 L1565.45 1499.19 L1567.67 1499.17 L1569.9 1499.14 L1572.13 1499.12 L1574.35 1499.08 L1576.58 1499.04 L1578.8 1499 L1581.03 1498.95 L1583.26 1498.89 L1585.48 1498.82 L1587.71 1498.74 L1589.94 1498.64 L1592.16 1498.54 L1594.39 1498.41 L1596.62 1498.27 L1598.84 1498.11 L1601.07 1497.93 L1603.3 1497.72 L1605.52 1497.48 L1607.75 1497.21 L1609.97 1496.9 L1612.2 1496.55 L1614.43 1496.15 L1616.65 1495.71 L1618.88 1495.21 L1621.11 1494.64 L1623.33 1494.01 L1625.56 1493.3 L1627.79 1492.51 L1630.01 1491.63 L1632.24 1490.65 L1634.46 1489.56 L1636.69 1488.35 L1638.92 1487.02 L1641.14 1485.54 L1643.37 1483.91 L1645.6 1482.12 L1647.82 1480.15 L1650.05 1477.99 L1652.28 1475.63 L1654.5 1473.06 L1656.73 1470.25 L1658.96 1467.2 L1661.18 1463.88 L1663.41 1460.3 L1665.63 1456.42 L1667.86 1452.24 L1670.09 1447.73 L1672.31 1442.89 L1674.54 1437.71 L1676.77 1432.16 L1678.99 1426.24 L1681.22 1419.93 L1683.45 1413.22 L1685.67 1406.1 L1687.9 1398.57 L1690.13 1390.61 L1692.35 1382.23 L1694.58 1373.41 L1696.8 1364.17 L1699.03 1354.49 L1701.26 1344.38 L1703.48 1333.85 L1705.71 1322.9 L1707.94 1311.55 L1710.16 1299.81 L1712.39 1287.7 L1714.62 1275.24 L1716.84 1262.44 L1719.07 1249.35 L1721.3 1235.98 L1723.52 1222.36 L1725.75 1208.54 L1727.97 1194.55 L1730.2 1180.44 L1732.43 1166.23 L1734.65 1151.99 L1736.88 1137.76 L1739.11 1123.59 L1741.33 1109.52 L1743.56 1095.62 L1745.79 1081.94 L1748.01 1068.53 L1750.24 1055.45 L1752.47 1042.75 L1754.69 1030.48 L1756.92 1018.71 L1759.14 1007.49 L1761.37 996.86 L1763.6 986.87 L1765.82 977.58 L1768.05 969.03 L1770.28 961.26 L1772.5 954.3 L1774.73 948.19 L1776.96 942.97 L1779.18 938.66 L1781.41 935.27 L1783.63 932.84 L1785.86 931.36 L1788.09 930.85 L1790.31 931.31 L1792.54 932.74 L1794.77 935.13 L1796.99 938.46 L1799.22 942.73 L1801.45 947.91 L1803.67 953.97 L1805.9 960.88 L1808.13 968.62 L1810.35 977.13 L1812.58 986.39 L1814.8 996.34 L1817.03 1006.94 L1819.26 1018.13 L1821.48 1029.88 L1823.71 1042.12 L1825.94 1054.79 L1828.16 1067.86 L1830.39 1081.25 L1832.62 1094.92 L1834.84 1108.81 L1837.07 1122.87 L1839.3 1137.04 L1841.52 1151.27 L1843.75 1165.51 L1845.97 1179.72 L1848.2 1193.84 L1850.43 1207.84 L1852.65 1221.67 L1854.88 1235.29 L1857.11 1248.68 L1859.33 1261.79 L1861.56 1274.6 L1863.79 1287.08 L1866.01 1299.21 L1868.24 1310.97 L1870.47 1322.34 L1872.69 1333.3 L1874.92 1343.85 L1877.14 1353.99 L1879.37 1363.69 L1881.6 1372.96 L1883.82 1381.79 L1886.05 1390.2 L1888.28 1398.18 L1890.5 1405.73 L1892.73 1412.87 L1894.96 1419.6 L1897.18 1425.93 L1899.41 1431.87 L1901.64 1437.44 L1903.86 1442.64 L1906.09 1447.5 L1908.31 1452.02 L1910.54 1456.21 L1912.77 1460.11 L1914.99 1463.71 L1917.22 1467.04 L1919.45 1470.1 L1921.67 1472.92 L1923.9 1475.51 L1926.13 1477.88 L1928.35 1480.05 L1930.58 1482.02 L1932.8 1483.82 L1935.03 1485.46 L1937.26 1486.95 L1939.48 1488.29 L1941.71 1489.5 L1943.94 1490.6 L1946.16 1491.59 L1948.39 1492.47 L1950.62 1493.27 L1952.84 1493.98 L1955.07 1494.61 L1957.3 1495.18 L1959.52 1495.68 L1961.75 1496.13 L1963.97 1496.53 L1966.2 1496.88 L1968.43 1497.19 L1970.65 1497.47 L1972.88 1497.71 L1975.11 1497.92 L1977.33 1498.1 L1979.56 1498.27 L1981.79 1498.41 L1984.01 1498.53 L1986.24 1498.64 L1988.47 1498.73 L1990.69 1498.81 L1992.92 1498.88 L1995.14 1498.95 L1997.37 1499 L1999.6 1499.04 L2001.82 1499.08 L2004.05 1499.11 L2006.28 1499.14 L2008.5 1499.17 L2010.73 1499.19 L2012.96 1499.21 L2015.18 1499.22 L2017.41 1499.23 L2019.64 1499.24 L2021.86 1499.25 L2024.09 1499.26 L2026.31 1499.27 L2028.54 1499.27 L2030.77 1499.28 L2035.22 1499.28 L2037.45 1499.29 L2046.35 1499.29 L2048.58 1499.3 L2050.8 1499.3" fill="none" stroke="#ff0000" stroke-width="1.6" stroke-linejoin="round"/>
<path d="M1680.37 1499.3 V1422.37" fill="none" stroke="#ff0000" stroke-width="1.56" stroke-dasharray="5.8 2.5"/><path d="M1734.26 1499.3 V1154.52" fill="none" stroke="#ff0000" stroke-width="1.56" stroke-dasharray="5.8 2.5"/><path d="M1842.03 1499.3 V1154.52" fill="none" stroke="#ff0000" stroke-width="1.56" stroke-dasharray="5.8 2.5"/><path d="M1895.91 1499.3 V1422.37" fill="none" stroke="#ff0000" stroke-width="1.56" stroke-dasharray="5.8 2.5"/>
</g>
<path d="M77.3 0.7 H2107.9 M77.3 750.3 H2107.9 M77.3 1499.5 H2107.9 M78 0 V1500.2 M1092.55 0 V1500.2 M2107.2 0 V1500.2" stroke="#000" stroke-width="1.4" fill="none"/>
<path d="M134.37 750.1 v6 M134.37 0.9 v-6 M247.09 750.1 v6 M247.09 0.9 v-6 M359.82 750.1 v6 M359.82 0.9 v-6 M472.56 750.1 v6 M472.56 0.9 v-6 M585.29 750.1 v6 M585.29 0.9 v-6 M698.01 750.1 v6 M698.01 0.9 v-6 M810.75 750.1 v6 M810.75 0.9 v-6 M923.48 750.1 v6 M923.48 0.9 v-6 M1036.2 750.1 v6 M1036.2 0.9 v-6 M78 750.1 h-6 M1092.6 750.1 h6 M78 613.88 h-6 M1092.6 613.88 h6 M78 477.66 h-6 M1092.6 477.66 h6 M78 341.44 h-6 M1092.6 341.44 h6 M78 205.22 h-6 M1092.6 205.22 h6 M78 69 h-6 M1092.6 69 h6 M1148.96 750.1 v6 M1148.96 0.9 v-6 M1261.69 750.1 v6 M1261.69 0.9 v-6 M1374.42 750.1 v6 M1374.42 0.9 v-6 M1487.15 750.1 v6 M1487.15 0.9 v-6 M1599.88 750.1 v6 M1599.88 0.9 v-6 M1712.61 750.1 v6 M1712.61 0.9 v-6 M1825.34 750.1 v6 M1825.34 0.9 v-6 M1938.07 750.1 v6 M1938.07 0.9 v-6 M2050.8 750.1 v6 M2050.8 0.9 v-6 M1092.6 750.1 h-6 M2107.2 750.1 h6 M1092.6 613.88 h-6 M2107.2 613.88 h6 M1092.6 477.66 h-6 M2107.2 477.66 h6 M1092.6 341.44 h-6 M2107.2 341.44 h6 M1092.6 205.22 h-6 M2107.2 205.22 h6 M1092.6 69 h-6 M2107.2 69 h6 M134.37 1499.3 v6 M134.37 750.1 v-6 M247.09 1499.3 v6 M247.09 750.1 v-6 M359.82 1499.3 v6 M359.82 750.1 v-6 M472.56 1499.3 v6 M472.56 750.1 v-6 M585.29 1499.3 v6 M585.29 750.1 v-6 M698.01 1499.3 v6 M698.01 750.1 v-6 M810.75 1499.3 v6 M810.75 750.1 v-6 M923.48 1499.3 v6 M923.48 750.1 v-6 M1036.2 1499.3 v6 M1036.2 750.1 v-6 M78 1499.3 h-6 M1092.6 1499.3 h6 M78 1363.08 h-6 M1092.6 1363.08 h6 M78 1226.86 h-6 M1092.6 1226.86 h6 M78 1090.64 h-6 M1092.6 1090.64 h6 M78 954.42 h-6 M1092.6 954.42 h6 M78 818.2 h-6 M1092.6 818.2 h6 M1148.96 1499.3 v6 M1148.96 750.1 v-6 M1261.69 1499.3 v6 M1261.69 750.1 v-6 M1374.42 1499.3 v6 M1374.42 750.1 v-6 M1487.15 1499.3 v6 M1487.15 750.1 v-6 M1599.88 1499.3 v6 M1599.88 750.1 v-6 M1712.61 1499.3 v6 M1712.61 750.1 v-6 M1825.34 1499.3 v6 M1825.34 750.1 v-6 M1938.07 1499.3 v6 M1938.07 750.1 v-6 M2050.8 1499.3 v6 M2050.8 750.1 v-6 M1092.6 1499.3 h-6 M2107.2 1499.3 h6 M1092.6 1363.08 h-6 M2107.2 1363.08 h6 M1092.6 1226.86 h-6 M2107.2 1226.86 h6 M1092.6 1090.64 h-6 M2107.2 1090.64 h6 M1092.6 954.42 h-6 M2107.2 954.42 h6 M1092.6 818.2 h-6 M2107.2 818.2 h6" stroke="#000" stroke-width="1.3" fill="none"/>
<text x="134.47" y="1527.7" font-size="23.5" text-anchor="middle">29</text>
<text x="247.19" y="1527.7" font-size="23.5" text-anchor="middle">30</text>
<text x="359.93" y="1527.7" font-size="23.5" text-anchor="middle">31</text>
<text x="472.66" y="1527.7" font-size="23.5" text-anchor="middle">32</text>
<text x="585.39" y="1527.7" font-size="23.5" text-anchor="middle">33</text>
<text x="698.12" y="1527.7" font-size="23.5" text-anchor="middle">34</text>
<text x="810.85" y="1527.7" font-size="23.5" text-anchor="middle">35</text>
<text x="923.58" y="1527.7" font-size="23.5" text-anchor="middle">36</text>
<text x="1036.3" y="1527.7" font-size="23.5" text-anchor="middle">37</text>
<text x="1149.06" y="1527.7" font-size="23.5" text-anchor="middle">29</text>
<text x="1261.79" y="1527.7" font-size="23.5" text-anchor="middle">30</text>
<text x="1374.52" y="1527.7" font-size="23.5" text-anchor="middle">31</text>
<text x="1487.25" y="1527.7" font-size="23.5" text-anchor="middle">32</text>
<text x="1599.98" y="1527.7" font-size="23.5" text-anchor="middle">33</text>
<text x="1712.71" y="1527.7" font-size="23.5" text-anchor="middle">34</text>
<text x="1825.44" y="1527.7" font-size="23.5" text-anchor="middle">35</text>
<text x="1938.17" y="1527.7" font-size="23.5" text-anchor="middle">36</text>
<text x="2050.9" y="1527.7" font-size="23.5" text-anchor="middle">37</text>
<text x="67" y="758.6" font-size="23.5" text-anchor="end">0.0</text>
<text x="67" y="622.38" font-size="23.5" text-anchor="end">0.2</text>
<text x="67" y="486.16" font-size="23.5" text-anchor="end">0.4</text>
<text x="67" y="349.94" font-size="23.5" text-anchor="end">0.6</text>
<text x="67" y="213.72" font-size="23.5" text-anchor="end">0.8</text>
<text x="67" y="77.5" font-size="23.5" text-anchor="end">1.0</text>
<text x="67" y="1508.4" font-size="23.5" text-anchor="end">0.0</text>
<text x="67" y="1372.18" font-size="23.5" text-anchor="end">0.2</text>
<text x="67" y="1235.96" font-size="23.5" text-anchor="end">0.4</text>
<text x="67" y="1099.74" font-size="23.5" text-anchor="end">0.6</text>
<text x="67" y="963.52" font-size="23.5" text-anchor="end">0.8</text>
<text x="67" y="827.3" font-size="23.5" text-anchor="end">1.0</text>
<text y="1561.2" style="stroke-width:0.45px"><tspan x="448.2" font-size="31.1">Flare Energy</tspan><tspan x="634" font-size="33.3">(log</tspan><tspan font-size="33.3" font-style="italic" dx="0.8">E</tspan><tspan font-size="33.3" dx="0.3">)</tspan></text>
<text y="1561.2" style="stroke-width:0.45px"><tspan x="1462.8" font-size="31.1">Flare Energy</tspan><tspan x="1648.6" font-size="33.3">(log</tspan><tspan font-size="33.3" font-style="italic" dx="0.8">E</tspan><tspan font-size="33.3" dx="0.3">)</tspan></text>
<text transform="translate(21.9 376.1) rotate(-90)" font-size="31.1" style="stroke-width:0.45px" text-anchor="middle">Probability Density</text>
<text transform="translate(21.9 1125.3) rotate(-90)" font-size="31.1" style="stroke-width:0.45px" text-anchor="middle">Probability Density</text>
<text x="1046.3" y="40.2" font-size="23.6" text-anchor="middle">(a)</text>
<text x="2060.9" y="40.2" font-size="23.6" text-anchor="middle">(c)</text>
<text x="1046.3" y="790.3" font-size="23.6" text-anchor="middle">(b)</text>
<text x="2060.9" y="790.3" font-size="23.6" text-anchor="middle">(d)</text>
<rect x="94.8" y="29.7" width="37.1" height="13.2" fill="#ff0000" fill-opacity="0.35"/><text x="146.8" y="30.9" font-size="18.6">Flares on all solar-type stars</text><text x="146.8" y="51" font-size="18.6">(This work)</text><rect x="94.8" y="76.3" width="37.1" height="13.2" fill="#008000" fill-opacity="0.45"/><text x="146.8" y="77.5" font-size="18.6">Flares on M dwarfs</text><text x="146.8" y="97.6" font-size="18.6">(Günther et al. 2020)</text><path d="M94.8 117.8 H131.9" stroke="#ff0000" stroke-width="1.56" stroke-dasharray="5.8 2.5" fill="none"/><text y="124.3" font-size="18.6"><tspan x="146.8" font-style="italic">μ</tspan><tspan x="162.1" font-family="'DejaVu Sans', sans-serif">=</tspan><tspan x="181.3">34.67</tspan><tspan font-family="'DejaVu Sans', sans-serif">±</tspan>0.48(1<tspan font-style="italic">σ</tspan><tspan dx="0.5">)</tspan><tspan font-family="'DejaVu Sans', sans-serif">±</tspan>0.96(2<tspan font-style="italic">σ</tspan><tspan dx="0.5">)</tspan></text><path d="M94.8 146 H131.9" stroke="#008000" stroke-width="1.56" stroke-dasharray="5.8 2.5" fill="none"/><text y="152.5" font-size="18.6"><tspan x="146.8" font-style="italic">μ</tspan><tspan x="162.1" font-family="'DejaVu Sans', sans-serif">=</tspan><tspan x="181.3">32.90</tspan><tspan font-family="'DejaVu Sans', sans-serif">±</tspan>0.56(1<tspan font-style="italic">σ</tspan><tspan dx="0.5">)</tspan><tspan font-family="'DejaVu Sans', sans-serif">±</tspan>1.12(2<tspan font-style="italic">σ</tspan><tspan dx="0.5">)</tspan></text>
<rect x="1109.4" y="29.7" width="37.1" height="13.2" fill="#ff0000" fill-opacity="0.35"/><text x="1161.4" y="30.9" font-size="18.6">Flares on all solar-type stars</text><text x="1161.4" y="51" font-size="18.6">(This work)</text><rect x="1109.4" y="76.4" width="37.1" height="13" fill="none" stroke="#808080" stroke-width="2.3"/><text x="1161.4" y="77.5" font-size="18.6">Flares on all solar-type stars</text><text x="1161.4" y="97.6" font-size="18.6">(Shibayama et al. 2013)</text><path d="M1109.4 117.8 H1146.5" stroke="#ff0000" stroke-width="1.56" stroke-dasharray="5.8 2.5" fill="none"/><text y="124.3" font-size="18.6"><tspan x="1161.4" font-style="italic">μ</tspan><tspan x="1176.7" font-family="'DejaVu Sans', sans-serif">=</tspan><tspan x="1195.9">34.67</tspan><tspan font-family="'DejaVu Sans', sans-serif">±</tspan>0.48(1<tspan font-style="italic">σ</tspan><tspan dx="0.5">)</tspan><tspan font-family="'DejaVu Sans', sans-serif">±</tspan>0.96(2<tspan font-style="italic">σ</tspan><tspan dx="0.5">)</tspan></text><path d="M1109.4 146 H1146.5" stroke="#808080" stroke-width="1.56" stroke-dasharray="5.8 2.5" fill="none"/><text y="152.5" font-size="18.6"><tspan x="1161.4" font-style="italic">μ</tspan><tspan x="1176.7" font-family="'DejaVu Sans', sans-serif">=</tspan><tspan x="1195.9">34.59</tspan><tspan font-family="'DejaVu Sans', sans-serif">±</tspan>0.47(1<tspan font-style="italic">σ</tspan><tspan dx="0.5">)</tspan><tspan font-family="'DejaVu Sans', sans-serif">±</tspan>0.94(2<tspan font-style="italic">σ</tspan><tspan dx="0.5">)</tspan></text>
<rect x="94.8" y="778.9" width="37.1" height="13.2" fill="#ffcc00" fill-opacity="0.6"/><text x="146.8" y="780.1" font-size="18.6">Flares on M dwarfs</text><text x="146.8" y="800.2" font-size="18.6">(Yang et al. 2017)</text><rect x="94.8" y="825.5" width="37.1" height="13.2" fill="#008000" fill-opacity="0.45"/><text x="146.8" y="826.7" font-size="18.6">Flares on M dwarfs</text><text x="146.8" y="846.8" font-size="18.6">(Günther et al. 2020)</text><rect x="94.8" y="872.2" width="37.1" height="13" fill="none" stroke="#808080" stroke-width="2.3"/><text x="146.8" y="873.3" font-size="18.6">Flares on all solar-type stars</text><text x="146.8" y="893.4" font-size="18.6">(Shibayama et al. 2013)</text><path d="M94.8 913.6 H131.9" stroke="#ffcc00" stroke-width="1.56" stroke-dasharray="5.8 2.5" fill="none"/><text y="920.1" font-size="18.6"><tspan x="146.8" font-style="italic">μ</tspan><tspan x="162.1" font-family="'DejaVu Sans', sans-serif">=</tspan><tspan x="181.3">32.40</tspan><tspan font-family="'DejaVu Sans', sans-serif">±</tspan>0.67(1<tspan font-style="italic">σ</tspan><tspan dx="0.5">)</tspan><tspan font-family="'DejaVu Sans', sans-serif">±</tspan>1.35(2<tspan font-style="italic">σ</tspan><tspan dx="0.5">)</tspan></text><path d="M94.8 941.8 H131.9" stroke="#008000" stroke-width="1.56" stroke-dasharray="5.8 2.5" fill="none"/><text y="948.3" font-size="18.6"><tspan x="146.8" font-style="italic">μ</tspan><tspan x="162.1" font-family="'DejaVu Sans', sans-serif">=</tspan><tspan x="181.3">32.90</tspan><tspan font-family="'DejaVu Sans', sans-serif">±</tspan>0.56(1<tspan font-style="italic">σ</tspan><tspan dx="0.5">)</tspan><tspan font-family="'DejaVu Sans', sans-serif">±</tspan>1.12(2<tspan font-style="italic">σ</tspan><tspan dx="0.5">)</tspan></text><path d="M94.8 970 H131.9" stroke="#808080" stroke-width="1.56" stroke-dasharray="5.8 2.5" fill="none"/><text y="976.5" font-size="18.6"><tspan x="146.8" font-style="italic">μ</tspan><tspan x="162.1" font-family="'DejaVu Sans', sans-serif">=</tspan><tspan x="181.3">34.59</tspan><tspan font-family="'DejaVu Sans', sans-serif">±</tspan>0.47(1<tspan font-style="italic">σ</tspan><tspan dx="0.5">)</tspan><tspan font-family="'DejaVu Sans', sans-serif">±</tspan>0.94(2<tspan font-style="italic">σ</tspan><tspan dx="0.5">)</tspan></text>
<rect x="1109.4" y="778.9" width="37.1" height="13.2" fill="#0000ff" fill-opacity="0.45"/><text x="1161.4" y="780.1" font-size="18.6">Flares on all solar-type stars</text><text x="1161.4" y="800.2" font-size="18.6">(Tu et al. 2020)</text><rect x="1109.4" y="825.5" width="37.1" height="13.2" fill="#ff0000" fill-opacity="0.35"/><text x="1161.4" y="826.7" font-size="18.6">Flares on all solar-type stars</text><text x="1161.4" y="846.8" font-size="18.6">(This work)</text><path d="M1109.4 867 H1146.5" stroke="#0000ff" stroke-width="1.56" stroke-dasharray="5.8 2.5" fill="none"/><text y="873.5" font-size="18.6"><tspan x="1161.4" font-style="italic">μ</tspan><tspan x="1176.7" font-family="'DejaVu Sans', sans-serif">=</tspan><tspan x="1195.9">34.98</tspan><tspan font-family="'DejaVu Sans', sans-serif">±</tspan>0.43(1<tspan font-style="italic">σ</tspan><tspan dx="0.5">)</tspan><tspan font-family="'DejaVu Sans', sans-serif">±</tspan>0.86(2<tspan font-style="italic">σ</tspan><tspan dx="0.5">)</tspan></text><path d="M1109.4 895.2 H1146.5" stroke="#ff0000" stroke-width="1.56" stroke-dasharray="5.8 2.5" fill="none"/><text y="901.7" font-size="18.6"><tspan x="1161.4" font-style="italic">μ</tspan><tspan x="1176.7" font-family="'DejaVu Sans', sans-serif">=</tspan><tspan x="1195.9">34.67</tspan><tspan font-family="'DejaVu Sans', sans-serif">±</tspan>0.48(1<tspan font-style="italic">σ</tspan><tspan dx="0.5">)</tspan><tspan font-family="'DejaVu Sans', sans-serif">±</tspan>0.96(2<tspan font-style="italic">σ</tspan><tspan dx="0.5">)</tspan></text>
</svg>
</body>
</html>
